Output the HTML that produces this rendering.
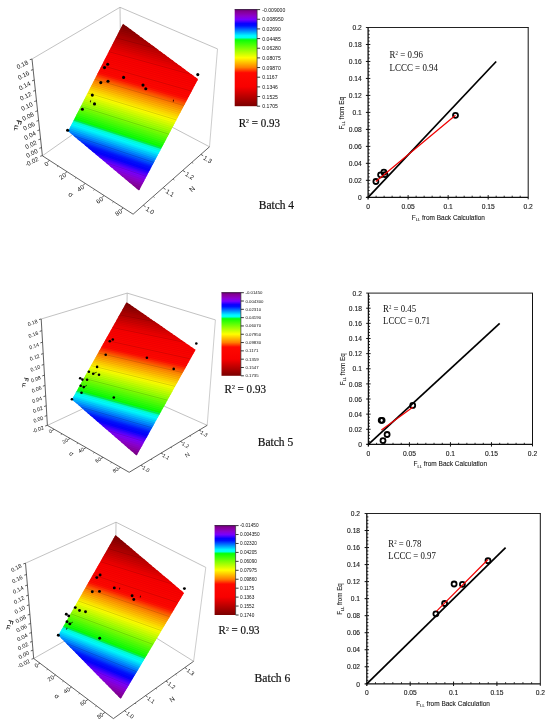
<!DOCTYPE html>
<html lang="en"><head><meta charset="utf-8"><title>Batch 4-6 fit surfaces</title>
<style>html,body{margin:0;padding:0;background:#fff;}svg{display:block;}</style></head><body>
<svg width="550" height="725" viewBox="0 0 550 725">
<rect width="550" height="725" fill="#fff"/>
<line x1="32" y1="59" x2="120" y2="7.3" stroke="#a8a8a8" stroke-width="0.7" />
<line x1="120" y1="7.3" x2="217.5" y2="48.9" stroke="#a8a8a8" stroke-width="0.7" />
<line x1="120" y1="7.3" x2="121.2" y2="100.3" stroke="#a8a8a8" stroke-width="0.7" />
<line x1="217.5" y1="48.9" x2="209.5" y2="146.8" stroke="#b8b8b8" stroke-width="0.7" />
<line x1="42.4" y1="155.8" x2="121.2" y2="100.3" stroke="#a8a8a8" stroke-width="0.7" />
<line x1="209.5" y1="146.8" x2="121.2" y2="100.3" stroke="#a8a8a8" stroke-width="0.7" />
<g shape-rendering="geometricPrecision">
<polygon points="135.21,187.33 139,190.5 139.82,188.95" fill="#740082"/>
<polygon points="131.45,184.18 137.48,189.23 139.33,189.88 140.64,187.4" fill="#7c008d"/>
<polygon points="127.69,181.04 133.7,186.07 140.15,188.33 141.46,185.85" fill="#840098"/>
<polygon points="123.96,177.92 129.94,182.92 140.97,186.78 142.29,184.3" fill="#8700a6"/>
<polygon points="120.25,174.81 126.2,179.79 141.79,185.23 143.11,182.75" fill="#8900b5"/>
<polygon points="116.55,171.72 122.47,176.68 142.61,183.68 143.93,181.2" fill="#8b00c4"/>
<polygon points="112.87,168.64 118.77,173.58 143.44,182.13 144.75,179.64" fill="#8b00d3"/>
<polygon points="109.21,165.58 115.07,170.49 144.26,180.58 145.58,178.09" fill="#8400e2"/>
<polygon points="105.56,162.53 111.4,167.42 145.08,179.02 146.4,176.53" fill="#7e00f1"/>
<polygon points="101.93,159.5 107.75,164.36 145.91,177.47 147.23,174.98" fill="#7700ff"/>
<polygon points="98.32,156.48 104.11,161.32 146.73,175.91 148.05,173.42" fill="#5a00ff"/>
<polygon points="94.73,153.47 100.49,158.29 147.56,174.36 148.88,171.86" fill="#3d00ff"/>
<polygon points="91.15,150.48 96.88,155.27 148.38,172.8 149.71,170.3" fill="#2000ff"/>
<polygon points="87.59,147.5 93.29,152.27 149.21,171.24 150.53,168.74" fill="#0701ff"/>
<polygon points="84.04,144.53 89.72,149.28 150.04,169.68 151.36,167.18" fill="#030aff"/>
<polygon points="80.51,141.58 86.17,146.31 150.86,168.12 152.19,165.62" fill="#0015ff"/>
<polygon points="77,138.64 82.63,143.35 151.69,166.56 153.02,164.06" fill="#002eff"/>
<polygon points="73.5,135.72 79.1,140.4 152.52,165 153.85,162.49" fill="#0048ff"/>
<polygon points="70.02,132.81 75.6,137.47 153.35,163.43 154.67,160.93" fill="#0061ff"/>
<polygon points="68.1,131.2 72.11,134.55 154.18,161.87 155.5,159.37 68.44,130.53" fill="#007aff"/>
<polygon points="68.1,131.2 68.63,131.65 155.01,160.3 156.33,157.8 69.21,129.04" fill="#0093ff"/>
<polygon points="155.84,158.74 157.17,156.23 69.97,127.54 68.75,129.94" fill="#00adff"/>
<polygon points="156.67,157.17 158,154.66 70.74,126.04 69.51,128.44" fill="#00c6ff"/>
<polygon points="157.5,155.6 158.83,153.09 71.5,124.55 70.28,126.94" fill="#00dfff"/>
<polygon points="158.33,154.04 159.66,151.52 72.27,123.05 71.04,125.45" fill="#00f8ff"/>
<polygon points="159.16,152.47 160.49,149.95 73.03,121.55 71.81,123.95" fill="#00fcf7"/>
<polygon points="159.99,150.9 161.33,148.38 73.8,120.05 72.57,122.45" fill="#01ffd8"/>
<polygon points="160.83,149.33 162.16,146.81 74.57,118.55 73.34,120.95" fill="#05ff6d"/>
<polygon points="161.66,147.75 162.99,145.24 75.34,117.04 74.11,119.45" fill="#09ff08"/>
<polygon points="162.49,146.18 163.83,143.66 76.11,115.54 74.88,117.94" fill="#18ff07"/>
<polygon points="163.33,144.61 164.66,142.09 76.87,114.04 75.64,116.44" fill="#27ff07"/>
<polygon points="164.16,143.03 165.5,140.51 77.64,112.53 76.41,114.94" fill="#36ff07"/>
<polygon points="165,141.46 166.34,138.93 78.41,111.03 77.18,113.43" fill="#45ff06"/>
<polygon points="165.83,139.88 167.17,137.35 79.18,109.52 77.95,111.93" fill="#53ff06"/>
<polygon points="166.67,138.3 168.01,135.78 79.95,108.01 78.72,110.42" fill="#62ff05"/>
<polygon points="167.51,136.72 168.85,134.2 80.72,106.5 79.49,108.92" fill="#71ff05"/>
<polygon points="168.34,135.14 169.69,132.61 81.5,104.99 80.26,107.41" fill="#80ff04"/>
<polygon points="169.18,133.56 170.52,131.03 82.27,103.48 81.03,105.9" fill="#8fff04"/>
<polygon points="170.02,131.98 171.36,129.45 83.04,101.97 81.8,104.39" fill="#9eff03"/>
<polygon points="170.86,130.4 172.2,127.87 83.81,100.46 82.58,102.88" fill="#adff03"/>
<polygon points="171.7,128.82 173.04,126.28 84.59,98.95 83.35,101.37" fill="#bcff02"/>
<polygon points="172.54,127.23 173.88,124.7 85.36,97.44 84.12,99.86" fill="#cbff02"/>
<polygon points="173.38,125.65 174.72,123.11 86.13,95.92 84.89,98.34" fill="#daff01"/>
<polygon points="174.22,124.06 175.57,121.52 86.91,94.41 85.67,96.83" fill="#e9ff01"/>
<polygon points="175.06,122.47 176.41,119.93 87.68,92.89 86.44,95.32" fill="#f8ff00"/>
<polygon points="175.9,120.89 177.25,118.34 88.46,91.38 87.22,93.8" fill="#fff800"/>
<polygon points="176.74,119.3 178.09,116.75 89.23,89.86 87.99,92.29" fill="#ffea00"/>
<polygon points="177.59,117.71 178.94,115.16 90.01,88.34 88.77,90.77" fill="#ffdc00"/>
<polygon points="178.43,116.12 179.78,113.57 90.79,86.82 89.54,89.25" fill="#ffce00"/>
<polygon points="179.27,114.53 180.62,111.98 91.56,85.3 90.32,87.73" fill="#ffc000"/>
<polygon points="180.12,112.93 181.47,110.38 92.34,83.78 91.1,86.21" fill="#ffb100"/>
<polygon points="180.96,111.34 182.32,108.79 93.12,82.26 91.87,84.69" fill="#ffa300"/>
<polygon points="181.81,109.75 183.16,107.19 93.9,80.74 92.65,83.17" fill="#ff9500"/>
<polygon points="182.65,108.15 184.01,105.6 94.67,79.21 93.43,81.65" fill="#ff8700"/>
<polygon points="183.5,106.55 184.85,104 95.45,77.69 94.21,80.13" fill="#ff7400"/>
<polygon points="184.35,104.96 185.7,102.4 96.23,76.16 94.99,78.6" fill="#ff5c00"/>
<polygon points="185.19,103.36 186.55,100.8 97.01,74.64 95.77,77.08" fill="#ff4300"/>
<polygon points="186.04,101.76 187.4,99.2 97.79,73.11 96.55,75.55" fill="#ff2b00"/>
<polygon points="186.89,100.16 188.25,97.6 98.57,71.58 97.33,74.03" fill="#ff1300"/>
<polygon points="187.74,98.56 189.1,96 99.36,70.05 98.11,72.5" fill="#ff0800"/>
<polygon points="188.59,96.96 189.95,94.39 100.14,68.53 98.89,70.97" fill="#fe0700"/>
<polygon points="189.44,95.35 190.8,92.79 100.92,67 99.67,69.44" fill="#fe0600"/>
<polygon points="190.29,93.75 191.65,91.18 101.7,65.46 100.45,67.91" fill="#fd0600"/>
<polygon points="191.14,92.15 192.5,89.58 102.49,63.93 101.23,66.38" fill="#fd0500"/>
<polygon points="191.99,90.54 193.35,87.97 103.27,62.4 102.02,64.85" fill="#fc0500"/>
<polygon points="192.84,88.93 194.2,86.36 104.05,60.87 102.8,63.32" fill="#fb0400"/>
<polygon points="193.69,87.33 195.06,84.75 104.84,59.33 103.58,61.79" fill="#fb0300"/>
<polygon points="194.55,85.72 195.91,83.14 105.62,57.8 104.37,60.25" fill="#fa0300"/>
<polygon points="195.4,84.11 196.76,81.53 106.41,56.26 105.15,58.72" fill="#fa0200"/>
<polygon points="196.25,82.5 197.62,79.92 107.19,54.72 105.94,57.18" fill="#f90200"/>
<polygon points="197.11,80.89 198,79.2 195.78,77.56 107.98,53.18 106.72,55.65" fill="#f90100"/>
<polygon points="197.96,79.27 198,79.2 191.78,74.6 108.77,51.65 107.51,54.11" fill="#f80000"/>
<polygon points="194.17,76.37 187.8,71.66 109.55,50.11 108.29,52.57" fill="#f50000"/>
<polygon points="190.18,73.43 183.84,68.74 110.34,48.57 109.08,51.03" fill="#ee0000"/>
<polygon points="186.21,70.49 179.9,65.83 111.13,47.02 109.87,49.49" fill="#e70000"/>
<polygon points="182.26,67.57 175.98,62.93 111.92,45.48 110.66,47.95" fill="#e00000"/>
<polygon points="178.33,64.67 172.07,60.05 112.71,43.94 111.44,46.41" fill="#d90000"/>
<polygon points="174.41,61.78 168.19,57.18 113.49,42.4 112.23,44.87" fill="#d20000"/>
<polygon points="170.52,58.9 164.33,54.33 114.28,40.85 113.02,43.32" fill="#cb0000"/>
<polygon points="166.64,56.04 160.48,51.48 115.07,39.3 113.81,41.78" fill="#c30000"/>
<polygon points="162.79,53.19 156.65,48.66 115.86,37.76 114.6,40.23" fill="#bd0000"/>
<polygon points="158.95,50.35 152.84,45.84 116.66,36.21 115.39,38.69" fill="#b60000"/>
<polygon points="155.12,47.53 149.05,43.04 117.45,34.66 116.18,37.14" fill="#af0000"/>
<polygon points="151.32,44.72 145.27,40.25 118.24,33.11 116.97,35.59" fill="#a80000"/>
<polygon points="147.54,41.92 141.52,37.48 119.03,31.56 117.76,34.04" fill="#a00000"/>
<polygon points="143.77,39.14 137.78,34.72 119.82,30.01 118.56,32.49" fill="#9a0000"/>
<polygon points="140.02,36.37 134.06,31.97 120.62,28.46 119.35,30.94" fill="#930000"/>
<polygon points="136.29,33.62 130.36,29.23 121.41,26.91 120.14,29.39" fill="#8c0000"/>
<polygon points="132.58,30.87 126.67,26.51 122.21,25.35 120.94,27.84" fill="#850000"/>
<polygon points="128.88,28.14 123,23.8 121.73,26.29" fill="#7e0000"/>
</g>
<line x1="134.74" y1="186.94" x2="139.92" y2="188.76" stroke="#000" stroke-width="0.45" stroke-opacity="0.10"/>
<line x1="130.51" y1="183.4" x2="140.85" y2="187.02" stroke="#000" stroke-width="0.45" stroke-opacity="0.10"/>
<line x1="126.29" y1="179.87" x2="141.77" y2="185.27" stroke="#000" stroke-width="0.45" stroke-opacity="0.10"/>
<line x1="122.1" y1="176.37" x2="142.7" y2="183.53" stroke="#000" stroke-width="0.45" stroke-opacity="0.10"/>
<line x1="117.93" y1="172.88" x2="143.62" y2="181.78" stroke="#000" stroke-width="0.45" stroke-opacity="0.10"/>
<line x1="113.79" y1="169.41" x2="144.55" y2="180.03" stroke="#000" stroke-width="0.45" stroke-opacity="0.10"/>
<line x1="109.66" y1="165.96" x2="145.48" y2="178.28" stroke="#000" stroke-width="0.45" stroke-opacity="0.10"/>
<line x1="105.56" y1="162.53" x2="146.4" y2="176.53" stroke="#000" stroke-width="0.5" stroke-opacity="0.30"/>
<line x1="101.48" y1="159.12" x2="147.33" y2="174.78" stroke="#000" stroke-width="0.45" stroke-opacity="0.10"/>
<line x1="97.42" y1="155.72" x2="148.26" y2="173.03" stroke="#000" stroke-width="0.45" stroke-opacity="0.10"/>
<line x1="93.38" y1="152.35" x2="149.19" y2="171.28" stroke="#000" stroke-width="0.45" stroke-opacity="0.10"/>
<line x1="89.36" y1="148.99" x2="150.12" y2="169.52" stroke="#000" stroke-width="0.45" stroke-opacity="0.10"/>
<line x1="85.37" y1="145.64" x2="151.05" y2="167.77" stroke="#000" stroke-width="0.45" stroke-opacity="0.10"/>
<line x1="81.39" y1="142.32" x2="151.98" y2="166.01" stroke="#000" stroke-width="0.45" stroke-opacity="0.10"/>
<line x1="77.44" y1="139.01" x2="152.91" y2="164.25" stroke="#000" stroke-width="0.45" stroke-opacity="0.10"/>
<line x1="73.5" y1="135.72" x2="153.85" y2="162.49" stroke="#000" stroke-width="0.5" stroke-opacity="0.30"/>
<line x1="69.59" y1="132.44" x2="154.78" y2="160.73" stroke="#000" stroke-width="0.45" stroke-opacity="0.10"/>
<line x1="155.71" y1="158.97" x2="68.63" y2="130.16" stroke="#000" stroke-width="0.45" stroke-opacity="0.10"/>
<line x1="156.65" y1="157.21" x2="69.49" y2="128.48" stroke="#000" stroke-width="0.45" stroke-opacity="0.10"/>
<line x1="157.58" y1="155.45" x2="70.35" y2="126.79" stroke="#000" stroke-width="0.45" stroke-opacity="0.10"/>
<line x1="158.52" y1="153.68" x2="71.21" y2="125.11" stroke="#000" stroke-width="0.45" stroke-opacity="0.10"/>
<line x1="159.45" y1="151.92" x2="72.08" y2="123.42" stroke="#000" stroke-width="0.45" stroke-opacity="0.10"/>
<line x1="160.39" y1="150.15" x2="72.94" y2="121.73" stroke="#000" stroke-width="0.45" stroke-opacity="0.10"/>
<line x1="161.33" y1="148.38" x2="73.8" y2="120.05" stroke="#000" stroke-width="0.5" stroke-opacity="0.30"/>
<line x1="162.26" y1="146.61" x2="74.66" y2="118.36" stroke="#000" stroke-width="0.45" stroke-opacity="0.10"/>
<line x1="163.2" y1="144.84" x2="75.53" y2="116.67" stroke="#000" stroke-width="0.45" stroke-opacity="0.10"/>
<line x1="164.14" y1="143.07" x2="76.39" y2="114.98" stroke="#000" stroke-width="0.45" stroke-opacity="0.10"/>
<line x1="165.08" y1="141.3" x2="77.26" y2="113.28" stroke="#000" stroke-width="0.45" stroke-opacity="0.10"/>
<line x1="166.02" y1="139.52" x2="78.12" y2="111.59" stroke="#000" stroke-width="0.45" stroke-opacity="0.10"/>
<line x1="166.96" y1="137.75" x2="78.99" y2="109.9" stroke="#000" stroke-width="0.45" stroke-opacity="0.10"/>
<line x1="167.9" y1="135.97" x2="79.86" y2="108.2" stroke="#000" stroke-width="0.45" stroke-opacity="0.10"/>
<line x1="168.85" y1="134.2" x2="80.72" y2="106.5" stroke="#000" stroke-width="0.5" stroke-opacity="0.30"/>
<line x1="169.79" y1="132.42" x2="81.59" y2="104.81" stroke="#000" stroke-width="0.45" stroke-opacity="0.10"/>
<line x1="170.73" y1="130.64" x2="82.46" y2="103.11" stroke="#000" stroke-width="0.45" stroke-opacity="0.10"/>
<line x1="171.68" y1="128.86" x2="83.33" y2="101.41" stroke="#000" stroke-width="0.45" stroke-opacity="0.10"/>
<line x1="172.62" y1="127.07" x2="84.2" y2="99.71" stroke="#000" stroke-width="0.45" stroke-opacity="0.10"/>
<line x1="173.57" y1="125.29" x2="85.07" y2="98" stroke="#000" stroke-width="0.45" stroke-opacity="0.10"/>
<line x1="174.51" y1="123.51" x2="85.94" y2="96.3" stroke="#000" stroke-width="0.45" stroke-opacity="0.10"/>
<line x1="175.46" y1="121.72" x2="86.81" y2="94.6" stroke="#000" stroke-width="0.45" stroke-opacity="0.10"/>
<line x1="176.41" y1="119.93" x2="87.68" y2="92.89" stroke="#000" stroke-width="0.5" stroke-opacity="0.30"/>
<line x1="177.36" y1="118.15" x2="88.55" y2="91.19" stroke="#000" stroke-width="0.45" stroke-opacity="0.10"/>
<line x1="178.3" y1="116.36" x2="89.43" y2="89.48" stroke="#000" stroke-width="0.45" stroke-opacity="0.10"/>
<line x1="179.25" y1="114.57" x2="90.3" y2="87.77" stroke="#000" stroke-width="0.45" stroke-opacity="0.10"/>
<line x1="180.2" y1="112.77" x2="91.17" y2="86.06" stroke="#000" stroke-width="0.45" stroke-opacity="0.10"/>
<line x1="181.15" y1="110.98" x2="92.05" y2="84.35" stroke="#000" stroke-width="0.45" stroke-opacity="0.10"/>
<line x1="182.1" y1="109.19" x2="92.92" y2="82.64" stroke="#000" stroke-width="0.45" stroke-opacity="0.10"/>
<line x1="183.06" y1="107.39" x2="93.8" y2="80.93" stroke="#000" stroke-width="0.45" stroke-opacity="0.10"/>
<line x1="184.01" y1="105.6" x2="94.67" y2="79.21" stroke="#000" stroke-width="0.5" stroke-opacity="0.30"/>
<line x1="184.96" y1="103.8" x2="95.55" y2="77.5" stroke="#000" stroke-width="0.45" stroke-opacity="0.10"/>
<line x1="185.91" y1="102" x2="96.43" y2="75.78" stroke="#000" stroke-width="0.45" stroke-opacity="0.10"/>
<line x1="186.87" y1="100.2" x2="97.31" y2="74.06" stroke="#000" stroke-width="0.45" stroke-opacity="0.10"/>
<line x1="187.82" y1="98.4" x2="98.18" y2="72.35" stroke="#000" stroke-width="0.45" stroke-opacity="0.10"/>
<line x1="188.78" y1="96.6" x2="99.06" y2="70.63" stroke="#000" stroke-width="0.45" stroke-opacity="0.10"/>
<line x1="189.73" y1="94.79" x2="99.94" y2="68.91" stroke="#000" stroke-width="0.45" stroke-opacity="0.10"/>
<line x1="190.69" y1="92.99" x2="100.82" y2="67.19" stroke="#000" stroke-width="0.45" stroke-opacity="0.10"/>
<line x1="191.65" y1="91.18" x2="101.7" y2="65.46" stroke="#000" stroke-width="0.5" stroke-opacity="0.30"/>
<line x1="192.61" y1="89.38" x2="102.58" y2="63.74" stroke="#000" stroke-width="0.45" stroke-opacity="0.10"/>
<line x1="193.56" y1="87.57" x2="103.46" y2="62.02" stroke="#000" stroke-width="0.45" stroke-opacity="0.10"/>
<line x1="194.52" y1="85.76" x2="104.35" y2="60.29" stroke="#000" stroke-width="0.45" stroke-opacity="0.10"/>
<line x1="195.48" y1="83.95" x2="105.23" y2="58.56" stroke="#000" stroke-width="0.45" stroke-opacity="0.10"/>
<line x1="196.44" y1="82.13" x2="106.11" y2="56.84" stroke="#000" stroke-width="0.45" stroke-opacity="0.10"/>
<line x1="197.41" y1="80.32" x2="107" y2="55.11" stroke="#000" stroke-width="0.45" stroke-opacity="0.10"/>
<line x1="196.28" y1="77.93" x2="107.88" y2="53.38" stroke="#000" stroke-width="0.45" stroke-opacity="0.10"/>
<line x1="191.78" y1="74.6" x2="108.77" y2="51.65" stroke="#000" stroke-width="0.5" stroke-opacity="0.30"/>
<line x1="187.3" y1="71.3" x2="109.65" y2="49.91" stroke="#000" stroke-width="0.45" stroke-opacity="0.10"/>
<line x1="182.85" y1="68.01" x2="110.54" y2="48.18" stroke="#000" stroke-width="0.45" stroke-opacity="0.10"/>
<line x1="178.43" y1="64.74" x2="111.42" y2="46.45" stroke="#000" stroke-width="0.45" stroke-opacity="0.10"/>
<line x1="174.02" y1="61.49" x2="112.31" y2="44.71" stroke="#000" stroke-width="0.45" stroke-opacity="0.10"/>
<line x1="169.65" y1="58.26" x2="113.2" y2="42.97" stroke="#000" stroke-width="0.45" stroke-opacity="0.10"/>
<line x1="165.29" y1="55.04" x2="114.09" y2="41.24" stroke="#000" stroke-width="0.45" stroke-opacity="0.10"/>
<line x1="160.96" y1="51.84" x2="114.98" y2="39.5" stroke="#000" stroke-width="0.45" stroke-opacity="0.10"/>
<line x1="156.65" y1="48.66" x2="115.86" y2="37.76" stroke="#000" stroke-width="0.5" stroke-opacity="0.30"/>
<line x1="152.37" y1="45.49" x2="116.75" y2="36.02" stroke="#000" stroke-width="0.45" stroke-opacity="0.10"/>
<line x1="148.1" y1="42.34" x2="117.65" y2="34.28" stroke="#000" stroke-width="0.45" stroke-opacity="0.10"/>
<line x1="143.86" y1="39.21" x2="118.54" y2="32.53" stroke="#000" stroke-width="0.45" stroke-opacity="0.10"/>
<line x1="139.65" y1="36.1" x2="119.43" y2="30.79" stroke="#000" stroke-width="0.45" stroke-opacity="0.10"/>
<line x1="135.45" y1="33" x2="120.32" y2="29.04" stroke="#000" stroke-width="0.45" stroke-opacity="0.10"/>
<line x1="131.28" y1="29.92" x2="121.21" y2="27.3" stroke="#000" stroke-width="0.45" stroke-opacity="0.10"/>
<line x1="127.13" y1="26.85" x2="122.11" y2="25.55" stroke="#000" stroke-width="0.45" stroke-opacity="0.10"/>
<circle cx="107.7" cy="64.3" r="1.55" fill="#000"/>
<circle cx="104.5" cy="67.6" r="1.55" fill="#000"/>
<circle cx="123.6" cy="77.4" r="1.55" fill="#000"/>
<circle cx="100.8" cy="82.6" r="1.55" fill="#000"/>
<circle cx="108" cy="81.3" r="1.55" fill="#000"/>
<circle cx="143" cy="85.1" r="1.55" fill="#000"/>
<circle cx="145.8" cy="88.7" r="1.55" fill="#000"/>
<circle cx="92.3" cy="95.1" r="1.55" fill="#000"/>
<circle cx="94.5" cy="103.9" r="1.55" fill="#000"/>
<circle cx="82.4" cy="109.3" r="1.55" fill="#000"/>
<circle cx="67.6" cy="130.3" r="1.55" fill="#000"/>
<circle cx="197.8" cy="74.6" r="1.55" fill="#000"/>
<ellipse cx="173.4" cy="100.7" rx="0.55" ry="1.15" fill="#200" fill-opacity="0.85" transform="rotate(20 173.4 100.7)"/>
<ellipse cx="90.5" cy="101.4" rx="0.55" ry="1.15" fill="#200" fill-opacity="0.85" transform="rotate(20 90.5 101.4)"/>
<line x1="32" y1="59" x2="42.4" y2="155.8" stroke="#3a3a3a" stroke-width="0.8" />
<line x1="42.4" y1="155.8" x2="133.1" y2="214.2" stroke="#3a3a3a" stroke-width="0.8" />
<line x1="133.1" y1="214.2" x2="209.5" y2="146.8" stroke="#3a3a3a" stroke-width="0.8" />
<line x1="32" y1="59" x2="29.8" y2="59.7" stroke="#3a3a3a" stroke-width="0.8" />
<text x="27.6" y="61.6" font-family='"Liberation Sans", sans-serif' font-size="6.2" text-anchor="end" fill="#111" dominant-baseline="central" transform="rotate(-27 27.6 61.6)" >0.18</text>
<line x1="33.14" y1="69.6" x2="30.94" y2="70.3" stroke="#3a3a3a" stroke-width="0.8" />
<text x="28.74" y="72.2" font-family='"Liberation Sans", sans-serif' font-size="6.2" text-anchor="end" fill="#111" dominant-baseline="central" transform="rotate(-27 28.74 72.2)" >0.16</text>
<line x1="34.27" y1="80.1" x2="32.07" y2="80.8" stroke="#3a3a3a" stroke-width="0.8" />
<text x="29.87" y="82.7" font-family='"Liberation Sans", sans-serif' font-size="6.2" text-anchor="end" fill="#111" dominant-baseline="central" transform="rotate(-27 29.87 82.7)" >0.14</text>
<line x1="35.38" y1="90.5" x2="33.18" y2="91.2" stroke="#3a3a3a" stroke-width="0.8" />
<text x="30.98" y="93.1" font-family='"Liberation Sans", sans-serif' font-size="6.2" text-anchor="end" fill="#111" dominant-baseline="central" transform="rotate(-27 30.98 93.1)" >0.12</text>
<line x1="36.49" y1="100.8" x2="34.29" y2="101.5" stroke="#3a3a3a" stroke-width="0.8" />
<text x="32.09" y="103.4" font-family='"Liberation Sans", sans-serif' font-size="6.2" text-anchor="end" fill="#111" dominant-baseline="central" transform="rotate(-27 32.09 103.4)" >0.10</text>
<line x1="37.57" y1="110.8" x2="35.37" y2="111.5" stroke="#3a3a3a" stroke-width="0.8" />
<text x="33.17" y="113.4" font-family='"Liberation Sans", sans-serif' font-size="6.2" text-anchor="end" fill="#111" dominant-baseline="central" transform="rotate(-27 33.17 113.4)" >0.08</text>
<line x1="38.61" y1="120.5" x2="36.41" y2="121.2" stroke="#3a3a3a" stroke-width="0.8" />
<text x="34.21" y="123.1" font-family='"Liberation Sans", sans-serif' font-size="6.2" text-anchor="end" fill="#111" dominant-baseline="central" transform="rotate(-27 34.21 123.1)" >0.06</text>
<line x1="39.62" y1="129.9" x2="37.42" y2="130.6" stroke="#3a3a3a" stroke-width="0.8" />
<text x="35.22" y="132.5" font-family='"Liberation Sans", sans-serif' font-size="6.2" text-anchor="end" fill="#111" dominant-baseline="central" transform="rotate(-27 35.22 132.5)" >0.04</text>
<line x1="40.6" y1="139" x2="38.4" y2="139.7" stroke="#3a3a3a" stroke-width="0.8" />
<text x="36.2" y="141.6" font-family='"Liberation Sans", sans-serif' font-size="6.2" text-anchor="end" fill="#111" dominant-baseline="central" transform="rotate(-27 36.2 141.6)" >0.02</text>
<line x1="41.52" y1="147.6" x2="39.32" y2="148.3" stroke="#3a3a3a" stroke-width="0.8" />
<text x="37.12" y="150.2" font-family='"Liberation Sans", sans-serif' font-size="6.2" text-anchor="end" fill="#111" dominant-baseline="central" transform="rotate(-27 37.12 150.2)" >0.00</text>
<line x1="42.38" y1="155.6" x2="40.18" y2="156.3" stroke="#3a3a3a" stroke-width="0.8" />
<text x="37.98" y="158.2" font-family='"Liberation Sans", sans-serif' font-size="6.2" text-anchor="end" fill="#111" dominant-baseline="central" transform="rotate(-27 37.98 158.2)" >-0.02</text>
<line x1="49.4" y1="160.4" x2="47.45" y2="162.12" stroke="#3a3a3a" stroke-width="0.8" />
<text x="47.72" y="162.72" font-family='"Liberation Sans", sans-serif' font-size="6.2" text-anchor="end" fill="#111" dominant-baseline="central" transform="rotate(-35 47.72 162.72)" >0</text>
<line x1="67" y1="171.6" x2="65.05" y2="173.32" stroke="#3a3a3a" stroke-width="0.8" />
<text x="65.32" y="173.92" font-family='"Liberation Sans", sans-serif' font-size="6.2" text-anchor="end" fill="#111" dominant-baseline="central" transform="rotate(-35 65.32 173.92)" >20</text>
<line x1="85" y1="183.6" x2="83.05" y2="185.32" stroke="#3a3a3a" stroke-width="0.8" />
<text x="83.32" y="185.92" font-family='"Liberation Sans", sans-serif' font-size="6.2" text-anchor="end" fill="#111" dominant-baseline="central" transform="rotate(-35 83.32 185.92)" >40</text>
<line x1="104" y1="195.6" x2="102.05" y2="197.32" stroke="#3a3a3a" stroke-width="0.8" />
<text x="102.32" y="197.92" font-family='"Liberation Sans", sans-serif' font-size="6.2" text-anchor="end" fill="#111" dominant-baseline="central" transform="rotate(-35 102.32 197.92)" >60</text>
<line x1="123" y1="208" x2="121.05" y2="209.72" stroke="#3a3a3a" stroke-width="0.8" />
<text x="121.32" y="210.32" font-family='"Liberation Sans", sans-serif' font-size="6.2" text-anchor="end" fill="#111" dominant-baseline="central" transform="rotate(-35 121.32 210.32)" >80</text>
<line x1="58.2" y1="166" x2="57.15" y2="166.93" stroke="#3a3a3a" stroke-width="0.6400000000000001" />
<line x1="76" y1="177.6" x2="74.95" y2="178.53" stroke="#3a3a3a" stroke-width="0.6400000000000001" />
<line x1="94.5" y1="189.6" x2="93.45" y2="190.53" stroke="#3a3a3a" stroke-width="0.6400000000000001" />
<line x1="113.5" y1="201.8" x2="112.45" y2="202.73" stroke="#3a3a3a" stroke-width="0.6400000000000001" />
<line x1="143.4" y1="205.4" x2="145.59" y2="206.81" stroke="#3a3a3a" stroke-width="0.8" />
<text x="150.2" y="210.2" font-family='"Liberation Sans", sans-serif' font-size="6.2" text-anchor="middle" fill="#111" dominant-baseline="central" transform="rotate(33 150.2 210.2)" >1.0</text>
<line x1="163.4" y1="188" x2="165.59" y2="189.41" stroke="#3a3a3a" stroke-width="0.8" />
<text x="170.2" y="192.8" font-family='"Liberation Sans", sans-serif' font-size="6.2" text-anchor="middle" fill="#111" dominant-baseline="central" transform="rotate(33 170.2 192.8)" >1.1</text>
<line x1="183" y1="170.6" x2="185.19" y2="172.01" stroke="#3a3a3a" stroke-width="0.8" />
<text x="189.8" y="175.4" font-family='"Liberation Sans", sans-serif' font-size="6.2" text-anchor="middle" fill="#111" dominant-baseline="central" transform="rotate(33 189.8 175.4)" >1.2</text>
<line x1="201" y1="154.4" x2="203.19" y2="155.81" stroke="#3a3a3a" stroke-width="0.8" />
<text x="207.8" y="159.2" font-family='"Liberation Sans", sans-serif' font-size="6.2" text-anchor="middle" fill="#111" dominant-baseline="central" transform="rotate(33 207.8 159.2)" >1.3</text>
<line x1="153.4" y1="196.7" x2="154.58" y2="197.46" stroke="#3a3a3a" stroke-width="0.6400000000000001" />
<line x1="173.2" y1="179.3" x2="174.38" y2="180.06" stroke="#3a3a3a" stroke-width="0.6400000000000001" />
<line x1="192" y1="162.5" x2="193.18" y2="163.26" stroke="#3a3a3a" stroke-width="0.6400000000000001" />
<text x="18.5" y="122.2" font-family='"Liberation Sans", sans-serif' font-size="7.1" text-anchor="middle" dominant-baseline="central" fill="#111" stroke="#111" stroke-width="0.2" transform="rotate(102 18.5 122.2)">F</text>
<text x="15.9" y="128" font-family='"Liberation Sans", sans-serif' font-size="4.83" text-anchor="middle" dominant-baseline="central" fill="#111" stroke="#111" stroke-width="0.15" transform="rotate(102 15.9 128)">LL</text>
<text x="71" y="194.4" font-family='"Liberation Sans", sans-serif' font-size="7.0" text-anchor="middle" fill="#111" dominant-baseline="central" transform="rotate(33 71 194.4)" >σ</text>
<text x="192" y="189" font-family='"Liberation Sans", sans-serif' font-size="7.0" text-anchor="middle" fill="#111" dominant-baseline="central" transform="rotate(-41 192 189)" >N</text>
<defs><linearGradient id="g1" x1="0" y1="0" x2="0" y2="1">
<stop offset="0.0" stop-color="#70007c"/>
<stop offset="0.03" stop-color="#86009a"/>
<stop offset="0.07" stop-color="#8c00d0"/>
<stop offset="0.105" stop-color="#7800ff"/>
<stop offset="0.148" stop-color="#0800ff"/>
<stop offset="0.17" stop-color="#0010ff"/>
<stop offset="0.272" stop-color="#00f8ff"/>
<stop offset="0.292" stop-color="#00fff0"/>
<stop offset="0.316" stop-color="#08ff08"/>
<stop offset="0.5" stop-color="#ffff00"/>
<stop offset="0.6" stop-color="#ff8000"/>
<stop offset="0.655" stop-color="#ff0800"/>
<stop offset="0.8" stop-color="#f80000"/>
<stop offset="1.0" stop-color="#7a0000"/>
</linearGradient></defs>
<rect x="234.7" y="9.3" width="22.4" height="96.9" fill="url(#g1)"/>
<line x1="234.7" y1="9.6" x2="257.1" y2="9.6" stroke="#2a1030" stroke-width="0.8" />
<line x1="257.1" y1="9.3" x2="257.1" y2="106.2" stroke="#333" stroke-width="0.7" />
<line x1="257.1" y1="9.6" x2="260.1" y2="9.6" stroke="#222" stroke-width="0.9" />
<text x="262.3" y="9.6" font-family='"Liberation Sans", sans-serif' font-size="5.1" text-anchor="start" fill="#111" dominant-baseline="central" >-0.009000</text>
<line x1="257.1" y1="19.26" x2="260.1" y2="19.26" stroke="#222" stroke-width="0.9" />
<text x="262.3" y="19.26" font-family='"Liberation Sans", sans-serif' font-size="5.1" text-anchor="start" fill="#111" dominant-baseline="central" >0.008950</text>
<line x1="257.1" y1="28.92" x2="260.1" y2="28.92" stroke="#222" stroke-width="0.9" />
<text x="262.3" y="28.92" font-family='"Liberation Sans", sans-serif' font-size="5.1" text-anchor="start" fill="#111" dominant-baseline="central" >0.02690</text>
<line x1="257.1" y1="38.58" x2="260.1" y2="38.58" stroke="#222" stroke-width="0.9" />
<text x="262.3" y="38.58" font-family='"Liberation Sans", sans-serif' font-size="5.1" text-anchor="start" fill="#111" dominant-baseline="central" >0.04485</text>
<line x1="257.1" y1="48.24" x2="260.1" y2="48.24" stroke="#222" stroke-width="0.9" />
<text x="262.3" y="48.24" font-family='"Liberation Sans", sans-serif' font-size="5.1" text-anchor="start" fill="#111" dominant-baseline="central" >0.06280</text>
<line x1="257.1" y1="57.9" x2="260.1" y2="57.9" stroke="#222" stroke-width="0.9" />
<text x="262.3" y="57.9" font-family='"Liberation Sans", sans-serif' font-size="5.1" text-anchor="start" fill="#111" dominant-baseline="central" >0.08075</text>
<line x1="257.1" y1="67.56" x2="260.1" y2="67.56" stroke="#222" stroke-width="0.9" />
<text x="262.3" y="67.56" font-family='"Liberation Sans", sans-serif' font-size="5.1" text-anchor="start" fill="#111" dominant-baseline="central" >0.09870</text>
<line x1="257.1" y1="77.22" x2="260.1" y2="77.22" stroke="#222" stroke-width="0.9" />
<text x="262.3" y="77.22" font-family='"Liberation Sans", sans-serif' font-size="5.1" text-anchor="start" fill="#111" dominant-baseline="central" >0.1167</text>
<line x1="257.1" y1="86.88" x2="260.1" y2="86.88" stroke="#222" stroke-width="0.9" />
<text x="262.3" y="86.88" font-family='"Liberation Sans", sans-serif' font-size="5.1" text-anchor="start" fill="#111" dominant-baseline="central" >0.1346</text>
<line x1="257.1" y1="96.54" x2="260.1" y2="96.54" stroke="#222" stroke-width="0.9" />
<text x="262.3" y="96.54" font-family='"Liberation Sans", sans-serif' font-size="5.1" text-anchor="start" fill="#111" dominant-baseline="central" >0.1525</text>
<line x1="257.1" y1="106.2" x2="260.1" y2="106.2" stroke="#222" stroke-width="0.9" />
<text x="262.3" y="106.2" font-family='"Liberation Sans", sans-serif' font-size="5.1" text-anchor="start" fill="#111" dominant-baseline="central" >0.1705</text>
<text x="238.7" y="126.9" font-family='"Liberation Serif", serif' font-size="12.4" fill="#111" stroke="#111" stroke-width="0.2" textLength="41.2" lengthAdjust="spacingAndGlyphs">R<tspan font-size="6.6" dy="-3.6">2</tspan><tspan dy="3.6"> = 0.93</tspan></text>
<text x="258.8" y="208.7" font-family='"Liberation Serif", serif' font-size="12.2" fill="#111" stroke="#111" stroke-width="0.2" textLength="35.3" lengthAdjust="spacingAndGlyphs">Batch 4</text>
<line x1="365.9" y1="27.5" x2="528.7" y2="27.5" stroke="#222" stroke-width="1.1" />
<line x1="528.2" y1="27.5" x2="528.2" y2="199.3" stroke="#111" stroke-width="1.0" />
<line x1="368.1" y1="27.5" x2="368.1" y2="199.5" stroke="#111" stroke-width="1.3" />
<line x1="365.9" y1="197.3" x2="528.2" y2="197.3" stroke="#111" stroke-width="1.3" />
<text x="361.8" y="197.5" font-family='"Liberation Sans", sans-serif' font-size="6.5" text-anchor="end" fill="#1a1a1a" dominant-baseline="central" stroke="#1a1a1a" stroke-width="0.12" textLength="3.72" lengthAdjust="spacingAndGlyphs">0</text>
<line x1="368.1" y1="193.9" x2="369.7" y2="193.9" stroke="#111" stroke-width="0.9" />
<line x1="368.1" y1="190.51" x2="369.7" y2="190.51" stroke="#111" stroke-width="0.9" />
<line x1="368.1" y1="187.11" x2="369.7" y2="187.11" stroke="#111" stroke-width="0.9" />
<line x1="368.1" y1="183.72" x2="369.7" y2="183.72" stroke="#111" stroke-width="0.9" />
<line x1="365.9" y1="180.32" x2="370.3" y2="180.32" stroke="#111" stroke-width="1.0" />
<text x="361.8" y="180.52" font-family='"Liberation Sans", sans-serif' font-size="6.5" text-anchor="end" fill="#1a1a1a" dominant-baseline="central" stroke="#1a1a1a" stroke-width="0.12" textLength="13.03" lengthAdjust="spacingAndGlyphs">0.02</text>
<line x1="368.1" y1="176.92" x2="369.7" y2="176.92" stroke="#111" stroke-width="0.9" />
<line x1="368.1" y1="173.53" x2="369.7" y2="173.53" stroke="#111" stroke-width="0.9" />
<line x1="368.1" y1="170.13" x2="369.7" y2="170.13" stroke="#111" stroke-width="0.9" />
<line x1="368.1" y1="166.74" x2="369.7" y2="166.74" stroke="#111" stroke-width="0.9" />
<line x1="365.9" y1="163.34" x2="370.3" y2="163.34" stroke="#111" stroke-width="1.0" />
<text x="361.8" y="163.54" font-family='"Liberation Sans", sans-serif' font-size="6.5" text-anchor="end" fill="#1a1a1a" dominant-baseline="central" stroke="#1a1a1a" stroke-width="0.12" textLength="13.03" lengthAdjust="spacingAndGlyphs">0.04</text>
<line x1="368.1" y1="159.94" x2="369.7" y2="159.94" stroke="#111" stroke-width="0.9" />
<line x1="368.1" y1="156.55" x2="369.7" y2="156.55" stroke="#111" stroke-width="0.9" />
<line x1="368.1" y1="153.15" x2="369.7" y2="153.15" stroke="#111" stroke-width="0.9" />
<line x1="368.1" y1="149.76" x2="369.7" y2="149.76" stroke="#111" stroke-width="0.9" />
<line x1="365.9" y1="146.36" x2="370.3" y2="146.36" stroke="#111" stroke-width="1.0" />
<text x="361.8" y="146.56" font-family='"Liberation Sans", sans-serif' font-size="6.5" text-anchor="end" fill="#1a1a1a" dominant-baseline="central" stroke="#1a1a1a" stroke-width="0.12" textLength="13.03" lengthAdjust="spacingAndGlyphs">0.06</text>
<line x1="368.1" y1="142.96" x2="369.7" y2="142.96" stroke="#111" stroke-width="0.9" />
<line x1="368.1" y1="139.57" x2="369.7" y2="139.57" stroke="#111" stroke-width="0.9" />
<line x1="368.1" y1="136.17" x2="369.7" y2="136.17" stroke="#111" stroke-width="0.9" />
<line x1="368.1" y1="132.78" x2="369.7" y2="132.78" stroke="#111" stroke-width="0.9" />
<line x1="365.9" y1="129.38" x2="370.3" y2="129.38" stroke="#111" stroke-width="1.0" />
<text x="361.8" y="129.58" font-family='"Liberation Sans", sans-serif' font-size="6.5" text-anchor="end" fill="#1a1a1a" dominant-baseline="central" stroke="#1a1a1a" stroke-width="0.12" textLength="13.03" lengthAdjust="spacingAndGlyphs">0.08</text>
<line x1="368.1" y1="125.98" x2="369.7" y2="125.98" stroke="#111" stroke-width="0.9" />
<line x1="368.1" y1="122.59" x2="369.7" y2="122.59" stroke="#111" stroke-width="0.9" />
<line x1="368.1" y1="119.19" x2="369.7" y2="119.19" stroke="#111" stroke-width="0.9" />
<line x1="368.1" y1="115.8" x2="369.7" y2="115.8" stroke="#111" stroke-width="0.9" />
<line x1="365.9" y1="112.4" x2="370.3" y2="112.4" stroke="#111" stroke-width="1.0" />
<text x="361.8" y="112.6" font-family='"Liberation Sans", sans-serif' font-size="6.5" text-anchor="end" fill="#1a1a1a" dominant-baseline="central" stroke="#1a1a1a" stroke-width="0.12" textLength="9.31" lengthAdjust="spacingAndGlyphs">0.1</text>
<line x1="368.1" y1="109" x2="369.7" y2="109" stroke="#111" stroke-width="0.9" />
<line x1="368.1" y1="105.61" x2="369.7" y2="105.61" stroke="#111" stroke-width="0.9" />
<line x1="368.1" y1="102.21" x2="369.7" y2="102.21" stroke="#111" stroke-width="0.9" />
<line x1="368.1" y1="98.82" x2="369.7" y2="98.82" stroke="#111" stroke-width="0.9" />
<line x1="365.9" y1="95.42" x2="370.3" y2="95.42" stroke="#111" stroke-width="1.0" />
<text x="361.8" y="95.62" font-family='"Liberation Sans", sans-serif' font-size="6.5" text-anchor="end" fill="#1a1a1a" dominant-baseline="central" stroke="#1a1a1a" stroke-width="0.12" textLength="13.03" lengthAdjust="spacingAndGlyphs">0.12</text>
<line x1="368.1" y1="92.02" x2="369.7" y2="92.02" stroke="#111" stroke-width="0.9" />
<line x1="368.1" y1="88.63" x2="369.7" y2="88.63" stroke="#111" stroke-width="0.9" />
<line x1="368.1" y1="85.23" x2="369.7" y2="85.23" stroke="#111" stroke-width="0.9" />
<line x1="368.1" y1="81.84" x2="369.7" y2="81.84" stroke="#111" stroke-width="0.9" />
<line x1="365.9" y1="78.44" x2="370.3" y2="78.44" stroke="#111" stroke-width="1.0" />
<text x="361.8" y="78.64" font-family='"Liberation Sans", sans-serif' font-size="6.5" text-anchor="end" fill="#1a1a1a" dominant-baseline="central" stroke="#1a1a1a" stroke-width="0.12" textLength="13.03" lengthAdjust="spacingAndGlyphs">0.14</text>
<line x1="368.1" y1="75.04" x2="369.7" y2="75.04" stroke="#111" stroke-width="0.9" />
<line x1="368.1" y1="71.65" x2="369.7" y2="71.65" stroke="#111" stroke-width="0.9" />
<line x1="368.1" y1="68.25" x2="369.7" y2="68.25" stroke="#111" stroke-width="0.9" />
<line x1="368.1" y1="64.86" x2="369.7" y2="64.86" stroke="#111" stroke-width="0.9" />
<line x1="365.9" y1="61.46" x2="370.3" y2="61.46" stroke="#111" stroke-width="1.0" />
<text x="361.8" y="61.66" font-family='"Liberation Sans", sans-serif' font-size="6.5" text-anchor="end" fill="#1a1a1a" dominant-baseline="central" stroke="#1a1a1a" stroke-width="0.12" textLength="13.03" lengthAdjust="spacingAndGlyphs">0.16</text>
<line x1="368.1" y1="58.06" x2="369.7" y2="58.06" stroke="#111" stroke-width="0.9" />
<line x1="368.1" y1="54.67" x2="369.7" y2="54.67" stroke="#111" stroke-width="0.9" />
<line x1="368.1" y1="51.27" x2="369.7" y2="51.27" stroke="#111" stroke-width="0.9" />
<line x1="368.1" y1="47.88" x2="369.7" y2="47.88" stroke="#111" stroke-width="0.9" />
<line x1="365.9" y1="44.48" x2="370.3" y2="44.48" stroke="#111" stroke-width="1.0" />
<text x="361.8" y="44.68" font-family='"Liberation Sans", sans-serif' font-size="6.5" text-anchor="end" fill="#1a1a1a" dominant-baseline="central" stroke="#1a1a1a" stroke-width="0.12" textLength="13.03" lengthAdjust="spacingAndGlyphs">0.18</text>
<line x1="368.1" y1="41.08" x2="369.7" y2="41.08" stroke="#111" stroke-width="0.9" />
<line x1="368.1" y1="37.69" x2="369.7" y2="37.69" stroke="#111" stroke-width="0.9" />
<line x1="368.1" y1="34.29" x2="369.7" y2="34.29" stroke="#111" stroke-width="0.9" />
<line x1="368.1" y1="30.9" x2="369.7" y2="30.9" stroke="#111" stroke-width="0.9" />
<text x="361.8" y="27.7" font-family='"Liberation Sans", sans-serif' font-size="6.5" text-anchor="end" fill="#1a1a1a" dominant-baseline="central" stroke="#1a1a1a" stroke-width="0.12" textLength="9.31" lengthAdjust="spacingAndGlyphs">0.2</text>
<text x="368.1" y="208.5" font-family='"Liberation Sans", sans-serif' font-size="6.5" text-anchor="middle" fill="#1a1a1a" stroke="#1a1a1a" stroke-width="0.12" textLength="3.72" lengthAdjust="spacingAndGlyphs">0</text>
<line x1="376.11" y1="197.3" x2="376.11" y2="195.7" stroke="#111" stroke-width="0.9" />
<line x1="384.11" y1="197.3" x2="384.11" y2="195.7" stroke="#111" stroke-width="0.9" />
<line x1="392.12" y1="197.3" x2="392.12" y2="195.7" stroke="#111" stroke-width="0.9" />
<line x1="400.12" y1="197.3" x2="400.12" y2="195.7" stroke="#111" stroke-width="0.9" />
<line x1="408.12" y1="195.1" x2="408.12" y2="199.5" stroke="#111" stroke-width="1.0" />
<text x="408.12" y="208.5" font-family='"Liberation Sans", sans-serif' font-size="6.5" text-anchor="middle" fill="#1a1a1a" stroke="#1a1a1a" stroke-width="0.12" textLength="13.03" lengthAdjust="spacingAndGlyphs">0.05</text>
<line x1="416.13" y1="197.3" x2="416.13" y2="195.7" stroke="#111" stroke-width="0.9" />
<line x1="424.14" y1="197.3" x2="424.14" y2="195.7" stroke="#111" stroke-width="0.9" />
<line x1="432.14" y1="197.3" x2="432.14" y2="195.7" stroke="#111" stroke-width="0.9" />
<line x1="440.15" y1="197.3" x2="440.15" y2="195.7" stroke="#111" stroke-width="0.9" />
<line x1="448.15" y1="195.1" x2="448.15" y2="199.5" stroke="#111" stroke-width="1.0" />
<text x="448.15" y="208.5" font-family='"Liberation Sans", sans-serif' font-size="6.5" text-anchor="middle" fill="#1a1a1a" stroke="#1a1a1a" stroke-width="0.12" textLength="9.31" lengthAdjust="spacingAndGlyphs">0.1</text>
<line x1="456.16" y1="197.3" x2="456.16" y2="195.7" stroke="#111" stroke-width="0.9" />
<line x1="464.16" y1="197.3" x2="464.16" y2="195.7" stroke="#111" stroke-width="0.9" />
<line x1="472.17" y1="197.3" x2="472.17" y2="195.7" stroke="#111" stroke-width="0.9" />
<line x1="480.17" y1="197.3" x2="480.17" y2="195.7" stroke="#111" stroke-width="0.9" />
<line x1="488.18" y1="195.1" x2="488.18" y2="199.5" stroke="#111" stroke-width="1.0" />
<text x="488.18" y="208.5" font-family='"Liberation Sans", sans-serif' font-size="6.5" text-anchor="middle" fill="#1a1a1a" stroke="#1a1a1a" stroke-width="0.12" textLength="13.03" lengthAdjust="spacingAndGlyphs">0.15</text>
<line x1="496.18" y1="197.3" x2="496.18" y2="195.7" stroke="#111" stroke-width="0.9" />
<line x1="504.19" y1="197.3" x2="504.19" y2="195.7" stroke="#111" stroke-width="0.9" />
<line x1="512.19" y1="197.3" x2="512.19" y2="195.7" stroke="#111" stroke-width="0.9" />
<line x1="520.2" y1="197.3" x2="520.2" y2="195.7" stroke="#111" stroke-width="0.9" />
<text x="528.2" y="208.5" font-family='"Liberation Sans", sans-serif' font-size="6.5" text-anchor="middle" fill="#1a1a1a" stroke="#1a1a1a" stroke-width="0.12" textLength="9.31" lengthAdjust="spacingAndGlyphs">0.2</text>
<line x1="368.1" y1="197.3" x2="496.18" y2="61.46" stroke="#000" stroke-width="1.7" stroke-linecap="butt"/>
<circle cx="375.9" cy="181.5" r="2.5" fill="none" stroke="#000" stroke-width="1.8"/>
<circle cx="380.6" cy="174.8" r="2.5" fill="none" stroke="#000" stroke-width="1.8"/>
<circle cx="383.9" cy="172.2" r="2.5" fill="none" stroke="#000" stroke-width="1.8"/>
<circle cx="385" cy="174.6" r="2.5" fill="none" stroke="#000" stroke-width="1.8"/>
<circle cx="455.5" cy="115.3" r="2.5" fill="none" stroke="#000" stroke-width="1.8"/>
<line x1="375.9" y1="181.5" x2="455.5" y2="115.3" stroke="#f00000" stroke-width="1.2" />
<text x="411.8" y="219.6" font-family='"Liberation Sans", sans-serif' font-size="6.5" fill="#1a1a1a" stroke="#1a1a1a" stroke-width="0.1" textLength="73.1" lengthAdjust="spacingAndGlyphs">F<tspan font-size="4.03" dy="1.4">LL</tspan><tspan dy="-1.4"> from Back Calculation</tspan></text>
<text x="343.9" y="113.2" font-family='"Liberation Sans", sans-serif' font-size="6.5" fill="#1a1a1a" stroke="#1a1a1a" stroke-width="0.1" text-anchor="middle" transform="rotate(-90 343.9 113.2)" textLength="32.4" lengthAdjust="spacingAndGlyphs">F<tspan font-size="4.03" dy="1.4">LL</tspan><tspan dy="-1.4"> from Eq</tspan></text>
<text x="389.6" y="58.4" font-family='"Liberation Serif", serif' font-size="9.6" fill="#111" textLength="33.4" lengthAdjust="spacingAndGlyphs">R<tspan font-size="5.3" dy="-3.0">2</tspan><tspan dy="3.0"> = 0.96</tspan></text>
<text x="389.6" y="71.4" font-family='"Liberation Serif", serif' font-size="9.6" fill="#111" textLength="48.4" lengthAdjust="spacingAndGlyphs">LCCC = 0.94</text>
<line x1="41.2" y1="319" x2="127.2" y2="293.1" stroke="#a8a8a8" stroke-width="0.7" />
<line x1="127.2" y1="293.1" x2="215.4" y2="319.9" stroke="#a8a8a8" stroke-width="0.7" />
<line x1="127.2" y1="293.1" x2="125.3" y2="388.9" stroke="#a8a8a8" stroke-width="0.7" />
<line x1="215.4" y1="319.9" x2="207.2" y2="425.3" stroke="#b8b8b8" stroke-width="0.7" />
<line x1="47.4" y1="425.4" x2="125.3" y2="388.9" stroke="#a8a8a8" stroke-width="0.7" />
<line x1="207.2" y1="425.3" x2="125.3" y2="388.9" stroke="#a8a8a8" stroke-width="0.7" />
<g shape-rendering="geometricPrecision">
<polygon points="133.28,452.63 136.6,455.5 137.46,453.96" fill="#740082"/>
<polygon points="130,449.78 135.27,454.35 136.94,454.88 138.32,452.42" fill="#7c008d"/>
<polygon points="126.73,446.96 131.97,451.49 137.8,453.34 139.18,450.88" fill="#840098"/>
<polygon points="123.49,444.16 128.69,448.65 138.66,451.8 140.04,449.34" fill="#8700a6"/>
<polygon points="120.28,441.38 125.43,445.84 139.52,450.26 140.89,447.79" fill="#8900b5"/>
<polygon points="117.09,438.62 122.21,443.04 140.38,448.72 141.75,446.25" fill="#8b00c4"/>
<polygon points="113.93,435.88 119,440.27 141.24,447.18 142.61,444.71" fill="#8b00d3"/>
<polygon points="110.79,433.16 115.83,437.52 142.1,445.64 143.47,443.17" fill="#8400e2"/>
<polygon points="107.68,430.47 112.67,434.79 142.95,444.1 144.33,441.63" fill="#7e00f1"/>
<polygon points="104.59,427.79 109.54,432.08 143.81,442.56 145.18,440.1" fill="#7700ff"/>
<polygon points="101.52,425.14 106.44,429.39 144.67,441.02 146.04,438.56" fill="#5a00ff"/>
<polygon points="98.47,422.5 103.36,426.73 145.53,439.48 146.9,437.02" fill="#3d00ff"/>
<polygon points="95.45,419.89 100.3,424.08 146.38,437.94 147.76,435.48" fill="#2000ff"/>
<polygon points="92.45,417.29 97.26,421.45 147.24,436.4 148.61,433.94" fill="#0701ff"/>
<polygon points="89.48,414.71 94.25,418.85 148.1,434.86 149.47,432.4" fill="#030aff"/>
<polygon points="86.52,412.16 91.26,416.26 148.96,433.33 150.33,430.86" fill="#0015ff"/>
<polygon points="83.59,409.62 88.29,413.69 149.81,431.79 151.18,429.33" fill="#002eff"/>
<polygon points="80.68,407.1 85.35,411.14 150.67,430.25 152.04,427.79" fill="#0048ff"/>
<polygon points="77.79,404.6 82.43,408.61 151.53,428.71 152.9,426.25" fill="#0061ff"/>
<polygon points="74.93,402.12 79.53,406.1 152.38,427.17 153.75,424.72" fill="#007aff"/>
<polygon points="72.08,399.66 76.65,403.61 153.24,425.64 154.61,423.18" fill="#0093ff"/>
<polygon points="71.9,399.5 73.79,401.13 154.1,424.1 155.47,421.64 72.65,398.17" fill="#00adff"/>
<polygon points="154.95,422.56 156.32,420.11 73.44,396.75 72.17,399.02" fill="#00c6ff"/>
<polygon points="155.81,421.03 157.18,418.57 74.24,395.34 72.97,397.6" fill="#00dfff"/>
<polygon points="156.67,419.49 158.03,417.03 75.04,393.92 73.76,396.19" fill="#00f8ff"/>
<polygon points="157.52,417.96 158.89,415.5 75.84,392.5 74.56,394.77" fill="#00fcf6"/>
<polygon points="158.38,416.42 159.75,413.96 76.63,391.08 75.36,393.35" fill="#01ffd8"/>
<polygon points="159.23,414.88 160.6,412.43 77.43,389.67 76.15,391.93" fill="#05ff6d"/>
<polygon points="160.09,413.35 161.46,410.89 78.23,388.25 76.95,390.52" fill="#09ff08"/>
<polygon points="160.94,411.81 162.31,409.36 79.02,386.83 77.75,389.1" fill="#18ff07"/>
<polygon points="161.8,410.28 163.17,407.83 79.82,385.42 78.54,387.68" fill="#27ff07"/>
<polygon points="162.65,408.75 164.02,406.29 80.61,384 79.34,386.27" fill="#36ff07"/>
<polygon points="163.51,407.21 164.88,404.76 81.41,382.58 80.14,384.85" fill="#45ff06"/>
<polygon points="164.36,405.68 165.73,403.22 82.21,381.17 80.93,383.43" fill="#53ff06"/>
<polygon points="165.22,404.14 166.58,401.69 83,379.75 81.73,382.02" fill="#62ff05"/>
<polygon points="166.07,402.61 167.44,400.16 83.8,378.34 82.53,380.6" fill="#71ff05"/>
<polygon points="166.93,401.08 168.29,398.62 84.59,376.92 83.32,379.18" fill="#80ff04"/>
<polygon points="167.78,399.54 169.15,397.09 85.39,375.5 84.12,377.77" fill="#8fff04"/>
<polygon points="168.63,398.01 170,395.56 86.19,374.09 84.91,376.35" fill="#9eff03"/>
<polygon points="169.49,396.48 170.85,394.03 86.98,372.67 85.71,374.94" fill="#adff03"/>
<polygon points="170.34,394.95 171.71,392.5 87.78,371.26 86.5,373.52" fill="#bcff02"/>
<polygon points="171.2,393.42 172.56,390.96 88.57,369.85 87.3,372.11" fill="#cbff02"/>
<polygon points="172.05,391.88 173.42,389.43 89.37,368.43 88.09,370.69" fill="#daff01"/>
<polygon points="172.9,390.35 174.27,387.9 90.16,367.02 88.89,369.28" fill="#e9ff01"/>
<polygon points="173.76,388.82 175.12,386.37 90.96,365.6 89.68,367.87" fill="#f8ff00"/>
<polygon points="174.61,387.29 175.97,384.84 91.75,364.19 90.48,366.45" fill="#fff800"/>
<polygon points="175.46,385.76 176.83,383.31 92.54,362.78 91.27,365.04" fill="#ffea00"/>
<polygon points="176.32,384.23 177.68,381.78 93.34,361.36 92.07,363.63" fill="#ffdc00"/>
<polygon points="177.17,382.7 178.53,380.25 94.13,359.95 92.86,362.21" fill="#ffce00"/>
<polygon points="178.02,381.17 179.38,378.72 94.93,358.54 93.66,360.8" fill="#ffc000"/>
<polygon points="178.87,379.64 180.24,377.19 95.72,357.13 94.45,359.39" fill="#ffb100"/>
<polygon points="179.73,378.11 181.09,375.66 96.52,355.71 95.25,357.97" fill="#ffa300"/>
<polygon points="180.58,376.58 181.94,374.13 97.31,354.3 96.04,356.56" fill="#ff9500"/>
<polygon points="181.43,375.05 182.79,372.6 98.1,352.89 96.83,355.15" fill="#ff8700"/>
<polygon points="182.28,373.52 183.64,371.08 98.9,351.48 97.63,353.74" fill="#ff7400"/>
<polygon points="183.13,371.99 184.5,369.55 99.69,350.07 98.42,352.33" fill="#ff5c00"/>
<polygon points="183.99,370.46 185.35,368.02 100.48,348.66 99.21,350.91" fill="#ff4300"/>
<polygon points="184.84,368.94 186.2,366.49 101.28,347.24 100.01,349.5" fill="#ff2b00"/>
<polygon points="185.69,367.41 187.05,364.96 102.07,345.83 100.8,348.09" fill="#ff1300"/>
<polygon points="186.54,365.88 187.9,363.44 102.86,344.42 101.59,346.68" fill="#ff0800"/>
<polygon points="187.39,364.35 188.75,361.91 103.66,343.01 102.39,345.27" fill="#fe0700"/>
<polygon points="188.24,362.83 189.6,360.38 104.45,341.6 103.18,343.86" fill="#fe0600"/>
<polygon points="189.09,361.3 190.45,358.86 105.24,340.19 103.97,342.45" fill="#fd0600"/>
<polygon points="189.94,359.77 191.3,357.33 106.03,338.78 104.77,341.04" fill="#fd0500"/>
<polygon points="190.79,358.25 192.15,355.8 106.83,337.37 105.56,339.63" fill="#fc0500"/>
<polygon points="191.64,356.72 193,354.28 107.62,335.96 106.35,338.22" fill="#fb0400"/>
<polygon points="192.49,355.19 193.85,352.75 108.41,334.55 107.14,336.81" fill="#fb0300"/>
<polygon points="193.34,353.67 194.7,351.23 109.2,333.15 107.94,335.4" fill="#fa0300"/>
<polygon points="194.19,352.14 195.5,349.8 195.27,349.64 109.99,331.74 108.73,333.99" fill="#fa0200"/>
<polygon points="195.04,350.62 195.5,349.8 191.75,347.21 110.79,330.33 109.52,332.58" fill="#f90200"/>
<polygon points="193.86,348.67 188.25,344.79 111.58,328.92 110.31,331.17" fill="#f90100"/>
<polygon points="190.34,346.24 184.77,342.39 112.37,327.51 111.1,329.77" fill="#f80000"/>
<polygon points="186.85,343.83 181.33,340.01 113.16,326.1 111.9,328.36" fill="#f50000"/>
<polygon points="183.39,341.44 177.91,337.65 113.95,324.7 112.69,326.95" fill="#ed0000"/>
<polygon points="179.96,339.06 174.52,335.3 114.74,323.29 113.48,325.54" fill="#e70000"/>
<polygon points="176.55,336.71 171.15,332.98 115.54,321.88 114.27,324.13" fill="#e00000"/>
<polygon points="173.17,334.37 167.81,330.67 116.33,320.47 115.06,322.73" fill="#d90000"/>
<polygon points="169.81,332.05 164.5,328.38 117.12,319.07 115.85,321.32" fill="#d20000"/>
<polygon points="166.48,329.75 161.21,326.11 117.91,317.66 116.64,319.91" fill="#ca0000"/>
<polygon points="163.18,327.47 157.94,323.85 118.7,316.25 117.43,318.5" fill="#c40000"/>
<polygon points="159.9,325.2 154.7,321.61 119.49,314.85 118.22,317.1" fill="#bc0000"/>
<polygon points="156.64,322.95 151.48,319.39 120.28,313.44 119.02,315.69" fill="#b60000"/>
<polygon points="153.41,320.72 148.29,317.19 121.07,312.04 119.81,314.29" fill="#ae0000"/>
<polygon points="150.2,318.51 145.12,315 121.86,310.63 120.6,312.88" fill="#a80000"/>
<polygon points="147.02,316.31 141.98,312.82 122.65,309.22 121.39,311.47" fill="#a00000"/>
<polygon points="143.86,314.13 138.86,310.67 123.44,307.82 122.18,310.07" fill="#9a0000"/>
<polygon points="140.73,311.96 135.76,308.53 124.23,306.41 122.97,308.66" fill="#920000"/>
<polygon points="137.62,309.81 132.68,306.4 125.02,305.01 123.76,307.26" fill="#8c0000"/>
<polygon points="134.53,307.68 129.63,304.29 125.81,303.6 124.55,305.85" fill="#840000"/>
<polygon points="131.46,305.56 126.6,302.2 125.34,304.45" fill="#7e0000"/>
</g>
<line x1="132.87" y1="452.27" x2="137.57" y2="453.77" stroke="#000" stroke-width="0.45" stroke-opacity="0.10"/>
<line x1="129.18" y1="449.08" x2="138.53" y2="452.03" stroke="#000" stroke-width="0.45" stroke-opacity="0.10"/>
<line x1="125.51" y1="445.91" x2="139.5" y2="450.3" stroke="#000" stroke-width="0.45" stroke-opacity="0.10"/>
<line x1="121.88" y1="442.76" x2="140.46" y2="448.56" stroke="#000" stroke-width="0.45" stroke-opacity="0.10"/>
<line x1="118.29" y1="439.65" x2="141.43" y2="446.83" stroke="#000" stroke-width="0.45" stroke-opacity="0.10"/>
<line x1="114.72" y1="436.56" x2="142.4" y2="445.1" stroke="#000" stroke-width="0.45" stroke-opacity="0.10"/>
<line x1="111.18" y1="433.5" x2="143.36" y2="443.37" stroke="#000" stroke-width="0.45" stroke-opacity="0.10"/>
<line x1="107.68" y1="430.47" x2="144.33" y2="441.63" stroke="#000" stroke-width="0.5" stroke-opacity="0.30"/>
<line x1="104.2" y1="427.46" x2="145.29" y2="439.9" stroke="#000" stroke-width="0.45" stroke-opacity="0.10"/>
<line x1="100.76" y1="424.47" x2="146.26" y2="438.17" stroke="#000" stroke-width="0.45" stroke-opacity="0.10"/>
<line x1="97.34" y1="421.52" x2="147.22" y2="436.44" stroke="#000" stroke-width="0.45" stroke-opacity="0.10"/>
<line x1="93.95" y1="418.59" x2="148.19" y2="434.71" stroke="#000" stroke-width="0.45" stroke-opacity="0.10"/>
<line x1="90.59" y1="415.68" x2="149.15" y2="432.98" stroke="#000" stroke-width="0.45" stroke-opacity="0.10"/>
<line x1="87.26" y1="412.8" x2="150.11" y2="431.25" stroke="#000" stroke-width="0.45" stroke-opacity="0.10"/>
<line x1="83.96" y1="409.94" x2="151.08" y2="429.52" stroke="#000" stroke-width="0.45" stroke-opacity="0.10"/>
<line x1="80.68" y1="407.1" x2="152.04" y2="427.79" stroke="#000" stroke-width="0.5" stroke-opacity="0.30"/>
<line x1="77.43" y1="404.29" x2="153.01" y2="426.06" stroke="#000" stroke-width="0.45" stroke-opacity="0.10"/>
<line x1="74.21" y1="401.5" x2="153.97" y2="424.33" stroke="#000" stroke-width="0.45" stroke-opacity="0.10"/>
<line x1="154.93" y1="422.6" x2="72.15" y2="399.06" stroke="#000" stroke-width="0.45" stroke-opacity="0.10"/>
<line x1="155.89" y1="420.87" x2="73.05" y2="397.46" stroke="#000" stroke-width="0.45" stroke-opacity="0.10"/>
<line x1="156.86" y1="419.15" x2="73.94" y2="395.87" stroke="#000" stroke-width="0.45" stroke-opacity="0.10"/>
<line x1="157.82" y1="417.42" x2="74.84" y2="394.27" stroke="#000" stroke-width="0.45" stroke-opacity="0.10"/>
<line x1="158.78" y1="415.69" x2="75.74" y2="392.68" stroke="#000" stroke-width="0.45" stroke-opacity="0.10"/>
<line x1="159.75" y1="413.96" x2="76.63" y2="391.08" stroke="#000" stroke-width="0.5" stroke-opacity="0.30"/>
<line x1="160.71" y1="412.24" x2="77.53" y2="389.49" stroke="#000" stroke-width="0.45" stroke-opacity="0.10"/>
<line x1="161.67" y1="410.51" x2="78.42" y2="387.89" stroke="#000" stroke-width="0.45" stroke-opacity="0.10"/>
<line x1="162.63" y1="408.78" x2="79.32" y2="386.3" stroke="#000" stroke-width="0.45" stroke-opacity="0.10"/>
<line x1="163.59" y1="407.06" x2="80.22" y2="384.71" stroke="#000" stroke-width="0.45" stroke-opacity="0.10"/>
<line x1="164.56" y1="405.33" x2="81.11" y2="383.11" stroke="#000" stroke-width="0.45" stroke-opacity="0.10"/>
<line x1="165.52" y1="403.61" x2="82.01" y2="381.52" stroke="#000" stroke-width="0.45" stroke-opacity="0.10"/>
<line x1="166.48" y1="401.88" x2="82.9" y2="379.93" stroke="#000" stroke-width="0.45" stroke-opacity="0.10"/>
<line x1="167.44" y1="400.16" x2="83.8" y2="378.34" stroke="#000" stroke-width="0.5" stroke-opacity="0.30"/>
<line x1="168.4" y1="398.43" x2="84.69" y2="376.74" stroke="#000" stroke-width="0.45" stroke-opacity="0.10"/>
<line x1="169.36" y1="396.71" x2="85.59" y2="375.15" stroke="#000" stroke-width="0.45" stroke-opacity="0.10"/>
<line x1="170.32" y1="394.99" x2="86.48" y2="373.56" stroke="#000" stroke-width="0.45" stroke-opacity="0.10"/>
<line x1="171.28" y1="393.26" x2="87.38" y2="371.97" stroke="#000" stroke-width="0.45" stroke-opacity="0.10"/>
<line x1="172.24" y1="391.54" x2="88.27" y2="370.38" stroke="#000" stroke-width="0.45" stroke-opacity="0.10"/>
<line x1="173.2" y1="389.82" x2="89.17" y2="368.79" stroke="#000" stroke-width="0.45" stroke-opacity="0.10"/>
<line x1="174.16" y1="388.09" x2="90.06" y2="367.19" stroke="#000" stroke-width="0.45" stroke-opacity="0.10"/>
<line x1="175.12" y1="386.37" x2="90.96" y2="365.6" stroke="#000" stroke-width="0.5" stroke-opacity="0.30"/>
<line x1="176.08" y1="384.65" x2="91.85" y2="364.01" stroke="#000" stroke-width="0.45" stroke-opacity="0.10"/>
<line x1="177.04" y1="382.93" x2="92.74" y2="362.42" stroke="#000" stroke-width="0.45" stroke-opacity="0.10"/>
<line x1="178" y1="381.21" x2="93.64" y2="360.83" stroke="#000" stroke-width="0.45" stroke-opacity="0.10"/>
<line x1="178.96" y1="379.49" x2="94.53" y2="359.25" stroke="#000" stroke-width="0.45" stroke-opacity="0.10"/>
<line x1="179.92" y1="377.76" x2="95.42" y2="357.66" stroke="#000" stroke-width="0.45" stroke-opacity="0.10"/>
<line x1="180.88" y1="376.04" x2="96.32" y2="356.07" stroke="#000" stroke-width="0.45" stroke-opacity="0.10"/>
<line x1="181.83" y1="374.32" x2="97.21" y2="354.48" stroke="#000" stroke-width="0.45" stroke-opacity="0.10"/>
<line x1="182.79" y1="372.6" x2="98.1" y2="352.89" stroke="#000" stroke-width="0.5" stroke-opacity="0.30"/>
<line x1="183.75" y1="370.88" x2="99" y2="351.3" stroke="#000" stroke-width="0.45" stroke-opacity="0.10"/>
<line x1="184.71" y1="369.17" x2="99.89" y2="349.71" stroke="#000" stroke-width="0.45" stroke-opacity="0.10"/>
<line x1="185.67" y1="367.45" x2="100.78" y2="348.13" stroke="#000" stroke-width="0.45" stroke-opacity="0.10"/>
<line x1="186.62" y1="365.73" x2="101.67" y2="346.54" stroke="#000" stroke-width="0.45" stroke-opacity="0.10"/>
<line x1="187.58" y1="364.01" x2="102.57" y2="344.95" stroke="#000" stroke-width="0.45" stroke-opacity="0.10"/>
<line x1="188.54" y1="362.29" x2="103.46" y2="343.37" stroke="#000" stroke-width="0.45" stroke-opacity="0.10"/>
<line x1="189.5" y1="360.57" x2="104.35" y2="341.78" stroke="#000" stroke-width="0.45" stroke-opacity="0.10"/>
<line x1="190.45" y1="358.86" x2="105.24" y2="340.19" stroke="#000" stroke-width="0.5" stroke-opacity="0.30"/>
<line x1="191.41" y1="357.14" x2="106.13" y2="338.61" stroke="#000" stroke-width="0.45" stroke-opacity="0.10"/>
<line x1="192.37" y1="355.42" x2="107.02" y2="337.02" stroke="#000" stroke-width="0.45" stroke-opacity="0.10"/>
<line x1="193.32" y1="353.71" x2="107.92" y2="335.44" stroke="#000" stroke-width="0.45" stroke-opacity="0.10"/>
<line x1="194.28" y1="351.99" x2="108.81" y2="333.85" stroke="#000" stroke-width="0.45" stroke-opacity="0.10"/>
<line x1="195.24" y1="350.27" x2="109.7" y2="332.27" stroke="#000" stroke-width="0.45" stroke-opacity="0.10"/>
<line x1="192.63" y1="347.81" x2="110.59" y2="330.68" stroke="#000" stroke-width="0.45" stroke-opacity="0.10"/>
<line x1="188.68" y1="345.09" x2="111.48" y2="329.1" stroke="#000" stroke-width="0.45" stroke-opacity="0.10"/>
<line x1="184.77" y1="342.39" x2="112.37" y2="327.51" stroke="#000" stroke-width="0.5" stroke-opacity="0.30"/>
<line x1="180.9" y1="339.71" x2="113.26" y2="325.93" stroke="#000" stroke-width="0.45" stroke-opacity="0.10"/>
<line x1="177.06" y1="337.06" x2="114.15" y2="324.34" stroke="#000" stroke-width="0.45" stroke-opacity="0.10"/>
<line x1="173.25" y1="334.43" x2="115.04" y2="322.76" stroke="#000" stroke-width="0.45" stroke-opacity="0.10"/>
<line x1="169.48" y1="331.82" x2="115.93" y2="321.18" stroke="#000" stroke-width="0.45" stroke-opacity="0.10"/>
<line x1="165.74" y1="329.24" x2="116.82" y2="319.59" stroke="#000" stroke-width="0.45" stroke-opacity="0.10"/>
<line x1="162.03" y1="326.67" x2="117.71" y2="318.01" stroke="#000" stroke-width="0.45" stroke-opacity="0.10"/>
<line x1="158.35" y1="324.13" x2="118.6" y2="316.43" stroke="#000" stroke-width="0.45" stroke-opacity="0.10"/>
<line x1="154.7" y1="321.61" x2="119.49" y2="314.85" stroke="#000" stroke-width="0.5" stroke-opacity="0.30"/>
<line x1="151.08" y1="319.11" x2="120.38" y2="313.27" stroke="#000" stroke-width="0.45" stroke-opacity="0.10"/>
<line x1="147.5" y1="316.64" x2="121.27" y2="311.68" stroke="#000" stroke-width="0.45" stroke-opacity="0.10"/>
<line x1="143.94" y1="314.18" x2="122.16" y2="310.1" stroke="#000" stroke-width="0.45" stroke-opacity="0.10"/>
<line x1="140.42" y1="311.74" x2="123.05" y2="308.52" stroke="#000" stroke-width="0.45" stroke-opacity="0.10"/>
<line x1="136.92" y1="309.33" x2="123.93" y2="306.94" stroke="#000" stroke-width="0.45" stroke-opacity="0.10"/>
<line x1="133.45" y1="306.93" x2="124.82" y2="305.36" stroke="#000" stroke-width="0.45" stroke-opacity="0.10"/>
<line x1="130.01" y1="304.56" x2="125.71" y2="303.78" stroke="#000" stroke-width="0.45" stroke-opacity="0.10"/>
<circle cx="112.8" cy="339.5" r="1.3" fill="#000"/>
<circle cx="109.8" cy="341.3" r="1.3" fill="#000"/>
<circle cx="105.7" cy="354.8" r="1.3" fill="#000"/>
<circle cx="146.9" cy="357.7" r="1.3" fill="#000"/>
<circle cx="173.7" cy="368.9" r="1.3" fill="#000"/>
<circle cx="97.1" cy="366.9" r="1.3" fill="#000"/>
<circle cx="88.9" cy="371.8" r="1.3" fill="#000"/>
<circle cx="93.2" cy="373.7" r="1.3" fill="#000"/>
<circle cx="99" cy="374.7" r="1.3" fill="#000"/>
<circle cx="80.2" cy="378.3" r="1.3" fill="#000"/>
<circle cx="82.4" cy="379.6" r="1.3" fill="#000"/>
<circle cx="87.1" cy="379.7" r="1.3" fill="#000"/>
<circle cx="80.7" cy="385.7" r="1.3" fill="#000"/>
<circle cx="83.7" cy="387.1" r="1.3" fill="#000"/>
<circle cx="81.5" cy="392.8" r="1.3" fill="#000"/>
<circle cx="113.8" cy="397.5" r="1.3" fill="#000"/>
<circle cx="71.9" cy="399.2" r="1.3" fill="#000"/>
<circle cx="196.3" cy="343.5" r="1.3" fill="#000"/>
<line x1="93.2" y1="373.7" x2="96.3" y2="372.4" stroke="#000" stroke-width="0.7" stroke-linecap="round"/>
<line x1="83.7" y1="387.1" x2="86.5" y2="385.6" stroke="#000" stroke-width="0.7" stroke-linecap="round"/>
<line x1="41.2" y1="319" x2="47.4" y2="425.4" stroke="#3a3a3a" stroke-width="0.8" />
<line x1="47.4" y1="425.4" x2="129.2" y2="472.3" stroke="#3a3a3a" stroke-width="0.8" />
<line x1="129.2" y1="472.3" x2="207.2" y2="425.3" stroke="#3a3a3a" stroke-width="0.8" />
<line x1="41.19" y1="318.9" x2="38.99" y2="319.6" stroke="#3a3a3a" stroke-width="0.8" />
<text x="37.39" y="320.8" font-family='"Liberation Sans", sans-serif' font-size="5.2" text-anchor="end" fill="#111" dominant-baseline="central" transform="rotate(-20 37.39 320.8)" >0.18</text>
<line x1="41.88" y1="330.7" x2="39.68" y2="331.4" stroke="#3a3a3a" stroke-width="0.8" />
<text x="38.08" y="332.6" font-family='"Liberation Sans", sans-serif' font-size="5.2" text-anchor="end" fill="#111" dominant-baseline="central" transform="rotate(-20 38.08 332.6)" >0.16</text>
<line x1="42.55" y1="342.2" x2="40.35" y2="342.9" stroke="#3a3a3a" stroke-width="0.8" />
<text x="38.75" y="344.1" font-family='"Liberation Sans", sans-serif' font-size="5.2" text-anchor="end" fill="#111" dominant-baseline="central" transform="rotate(-20 38.75 344.1)" >0.14</text>
<line x1="43.22" y1="353.6" x2="41.02" y2="354.3" stroke="#3a3a3a" stroke-width="0.8" />
<text x="39.42" y="355.5" font-family='"Liberation Sans", sans-serif' font-size="5.2" text-anchor="end" fill="#111" dominant-baseline="central" transform="rotate(-20 39.42 355.5)" >0.12</text>
<line x1="43.85" y1="364.5" x2="41.65" y2="365.2" stroke="#3a3a3a" stroke-width="0.8" />
<text x="40.05" y="366.4" font-family='"Liberation Sans", sans-serif' font-size="5.2" text-anchor="end" fill="#111" dominant-baseline="central" transform="rotate(-20 40.05 366.4)" >0.10</text>
<line x1="44.47" y1="375.2" x2="42.27" y2="375.9" stroke="#3a3a3a" stroke-width="0.8" />
<text x="40.67" y="377.1" font-family='"Liberation Sans", sans-serif' font-size="5.2" text-anchor="end" fill="#111" dominant-baseline="central" transform="rotate(-20 40.67 377.1)" >0.08</text>
<line x1="45.08" y1="385.5" x2="42.88" y2="386.2" stroke="#3a3a3a" stroke-width="0.8" />
<text x="41.28" y="387.4" font-family='"Liberation Sans", sans-serif' font-size="5.2" text-anchor="end" fill="#111" dominant-baseline="central" transform="rotate(-20 41.28 387.4)" >0.06</text>
<line x1="45.68" y1="395.9" x2="43.48" y2="396.6" stroke="#3a3a3a" stroke-width="0.8" />
<text x="41.88" y="397.8" font-family='"Liberation Sans", sans-serif' font-size="5.2" text-anchor="end" fill="#111" dominant-baseline="central" transform="rotate(-20 41.88 397.8)" >0.04</text>
<line x1="46.26" y1="405.8" x2="44.06" y2="406.5" stroke="#3a3a3a" stroke-width="0.8" />
<text x="42.46" y="407.7" font-family='"Liberation Sans", sans-serif' font-size="5.2" text-anchor="end" fill="#111" dominant-baseline="central" transform="rotate(-20 42.46 407.7)" >0.02</text>
<line x1="46.83" y1="415.6" x2="44.63" y2="416.3" stroke="#3a3a3a" stroke-width="0.8" />
<text x="43.03" y="417.5" font-family='"Liberation Sans", sans-serif' font-size="5.2" text-anchor="end" fill="#111" dominant-baseline="central" transform="rotate(-20 43.03 417.5)" >0.00</text>
<line x1="47.39" y1="425.3" x2="45.19" y2="426" stroke="#3a3a3a" stroke-width="0.8" />
<text x="43.59" y="427.2" font-family='"Liberation Sans", sans-serif' font-size="5.2" text-anchor="end" fill="#111" dominant-baseline="central" transform="rotate(-20 43.59 427.2)" >-0.02</text>
<line x1="54" y1="429.4" x2="51.77" y2="430.74" stroke="#3a3a3a" stroke-width="0.8" />
<text x="51.5" y="430.45" font-family='"Liberation Sans", sans-serif' font-size="5.2" text-anchor="end" fill="#111" dominant-baseline="central" transform="rotate(-30 51.5 430.45)" >0</text>
<line x1="70" y1="438.4" x2="67.77" y2="439.74" stroke="#3a3a3a" stroke-width="0.8" />
<text x="67.5" y="439.45" font-family='"Liberation Sans", sans-serif' font-size="5.2" text-anchor="end" fill="#111" dominant-baseline="central" transform="rotate(-30 67.5 439.45)" >20</text>
<line x1="86" y1="447.6" x2="83.77" y2="448.94" stroke="#3a3a3a" stroke-width="0.8" />
<text x="83.5" y="448.65" font-family='"Liberation Sans", sans-serif' font-size="5.2" text-anchor="end" fill="#111" dominant-baseline="central" transform="rotate(-30 83.5 448.65)" >40</text>
<line x1="103" y1="457.4" x2="100.77" y2="458.74" stroke="#3a3a3a" stroke-width="0.8" />
<text x="100.5" y="458.45" font-family='"Liberation Sans", sans-serif' font-size="5.2" text-anchor="end" fill="#111" dominant-baseline="central" transform="rotate(-30 100.5 458.45)" >60</text>
<line x1="120.6" y1="467.4" x2="118.37" y2="468.74" stroke="#3a3a3a" stroke-width="0.8" />
<text x="118.1" y="468.45" font-family='"Liberation Sans", sans-serif' font-size="5.2" text-anchor="end" fill="#111" dominant-baseline="central" transform="rotate(-30 118.1 468.45)" >80</text>
<line x1="62" y1="433.9" x2="60.8" y2="434.62" stroke="#3a3a3a" stroke-width="0.6400000000000001" />
<line x1="78" y1="443" x2="76.8" y2="443.72" stroke="#3a3a3a" stroke-width="0.6400000000000001" />
<line x1="94.5" y1="452.5" x2="93.3" y2="453.22" stroke="#3a3a3a" stroke-width="0.6400000000000001" />
<line x1="111.8" y1="462.4" x2="110.6" y2="463.12" stroke="#3a3a3a" stroke-width="0.6400000000000001" />
<line x1="141" y1="465.4" x2="143.26" y2="466.69" stroke="#3a3a3a" stroke-width="0.8" />
<text x="146.2" y="468.9" font-family='"Liberation Sans", sans-serif' font-size="5.2" text-anchor="middle" fill="#111" dominant-baseline="central" transform="rotate(30 146.2 468.9)" >1.0</text>
<line x1="161" y1="453" x2="163.26" y2="454.29" stroke="#3a3a3a" stroke-width="0.8" />
<text x="166.2" y="456.5" font-family='"Liberation Sans", sans-serif' font-size="5.2" text-anchor="middle" fill="#111" dominant-baseline="central" transform="rotate(30 166.2 456.5)" >1.1</text>
<line x1="180.4" y1="441.4" x2="182.66" y2="442.69" stroke="#3a3a3a" stroke-width="0.8" />
<text x="185.6" y="444.9" font-family='"Liberation Sans", sans-serif' font-size="5.2" text-anchor="middle" fill="#111" dominant-baseline="central" transform="rotate(30 185.6 444.9)" >1.2</text>
<line x1="199" y1="430" x2="201.26" y2="431.29" stroke="#3a3a3a" stroke-width="0.8" />
<text x="204.2" y="433.5" font-family='"Liberation Sans", sans-serif' font-size="5.2" text-anchor="middle" fill="#111" dominant-baseline="central" transform="rotate(30 204.2 433.5)" >1.3</text>
<line x1="151" y1="459.2" x2="152.21" y2="459.9" stroke="#3a3a3a" stroke-width="0.6400000000000001" />
<line x1="170.7" y1="447.2" x2="171.91" y2="447.9" stroke="#3a3a3a" stroke-width="0.6400000000000001" />
<line x1="189.7" y1="435.7" x2="190.91" y2="436.4" stroke="#3a3a3a" stroke-width="0.6400000000000001" />
<text x="26.7" y="379.5" font-family='"Liberation Sans", sans-serif' font-size="6.1" text-anchor="middle" dominant-baseline="central" fill="#111" stroke="#111" stroke-width="0.2" transform="rotate(100 26.7 379.5)">F</text>
<text x="24" y="385.2" font-family='"Liberation Sans", sans-serif' font-size="4.15" text-anchor="middle" dominant-baseline="central" fill="#111" stroke="#111" stroke-width="0.15" transform="rotate(100 24 385.2)">LL</text>
<text x="71.4" y="453.6" font-family='"Liberation Sans", sans-serif' font-size="6.0" text-anchor="middle" fill="#111" dominant-baseline="central" transform="rotate(30 71.4 453.6)" >σ</text>
<text x="187.4" y="455" font-family='"Liberation Sans", sans-serif' font-size="6.0" text-anchor="middle" fill="#111" dominant-baseline="central" transform="rotate(-31 187.4 455)" >N</text>
<defs><linearGradient id="g2" x1="0" y1="0" x2="0" y2="1">
<stop offset="0.0" stop-color="#70007c"/>
<stop offset="0.03" stop-color="#86009a"/>
<stop offset="0.07" stop-color="#8c00d0"/>
<stop offset="0.105" stop-color="#7800ff"/>
<stop offset="0.148" stop-color="#0800ff"/>
<stop offset="0.17" stop-color="#0010ff"/>
<stop offset="0.272" stop-color="#00f8ff"/>
<stop offset="0.292" stop-color="#00fff0"/>
<stop offset="0.316" stop-color="#08ff08"/>
<stop offset="0.5" stop-color="#ffff00"/>
<stop offset="0.6" stop-color="#ff8000"/>
<stop offset="0.655" stop-color="#ff0800"/>
<stop offset="0.8" stop-color="#f80000"/>
<stop offset="1.0" stop-color="#7a0000"/>
</linearGradient></defs>
<rect x="221.5" y="292.4" width="19.4" height="83.4" fill="url(#g2)"/>
<line x1="221.5" y1="292.7" x2="240.9" y2="292.7" stroke="#2a1030" stroke-width="0.8" />
<line x1="240.9" y1="292.4" x2="240.9" y2="375.8" stroke="#333" stroke-width="0.7" />
<line x1="240.9" y1="292.7" x2="243.9" y2="292.7" stroke="#222" stroke-width="0.9" />
<text x="245.5" y="292.7" font-family='"Liberation Sans", sans-serif' font-size="4.3" text-anchor="start" fill="#111" dominant-baseline="central" >-0.01450</text>
<line x1="240.9" y1="301.01" x2="243.9" y2="301.01" stroke="#222" stroke-width="0.9" />
<text x="245.5" y="301.01" font-family='"Liberation Sans", sans-serif' font-size="4.3" text-anchor="start" fill="#111" dominant-baseline="central" >0.004300</text>
<line x1="240.9" y1="309.32" x2="243.9" y2="309.32" stroke="#222" stroke-width="0.9" />
<text x="245.5" y="309.32" font-family='"Liberation Sans", sans-serif' font-size="4.3" text-anchor="start" fill="#111" dominant-baseline="central" >0.02310</text>
<line x1="240.9" y1="317.63" x2="243.9" y2="317.63" stroke="#222" stroke-width="0.9" />
<text x="245.5" y="317.63" font-family='"Liberation Sans", sans-serif' font-size="4.3" text-anchor="start" fill="#111" dominant-baseline="central" >0.04190</text>
<line x1="240.9" y1="325.94" x2="243.9" y2="325.94" stroke="#222" stroke-width="0.9" />
<text x="245.5" y="325.94" font-family='"Liberation Sans", sans-serif' font-size="4.3" text-anchor="start" fill="#111" dominant-baseline="central" >0.06070</text>
<line x1="240.9" y1="334.25" x2="243.9" y2="334.25" stroke="#222" stroke-width="0.9" />
<text x="245.5" y="334.25" font-family='"Liberation Sans", sans-serif' font-size="4.3" text-anchor="start" fill="#111" dominant-baseline="central" >0.07950</text>
<line x1="240.9" y1="342.56" x2="243.9" y2="342.56" stroke="#222" stroke-width="0.9" />
<text x="245.5" y="342.56" font-family='"Liberation Sans", sans-serif' font-size="4.3" text-anchor="start" fill="#111" dominant-baseline="central" >0.09830</text>
<line x1="240.9" y1="350.87" x2="243.9" y2="350.87" stroke="#222" stroke-width="0.9" />
<text x="245.5" y="350.87" font-family='"Liberation Sans", sans-serif' font-size="4.3" text-anchor="start" fill="#111" dominant-baseline="central" >0.1171</text>
<line x1="240.9" y1="359.18" x2="243.9" y2="359.18" stroke="#222" stroke-width="0.9" />
<text x="245.5" y="359.18" font-family='"Liberation Sans", sans-serif' font-size="4.3" text-anchor="start" fill="#111" dominant-baseline="central" >0.1359</text>
<line x1="240.9" y1="367.49" x2="243.9" y2="367.49" stroke="#222" stroke-width="0.9" />
<text x="245.5" y="367.49" font-family='"Liberation Sans", sans-serif' font-size="4.3" text-anchor="start" fill="#111" dominant-baseline="central" >0.1547</text>
<line x1="240.9" y1="375.8" x2="243.9" y2="375.8" stroke="#222" stroke-width="0.9" />
<text x="245.5" y="375.8" font-family='"Liberation Sans", sans-serif' font-size="4.3" text-anchor="start" fill="#111" dominant-baseline="central" >0.1735</text>
<text x="224.5" y="392.7" font-family='"Liberation Serif", serif' font-size="12.4" fill="#111" stroke="#111" stroke-width="0.2" textLength="41.5" lengthAdjust="spacingAndGlyphs">R<tspan font-size="6.6" dy="-3.6">2</tspan><tspan dy="3.6"> = 0.93</tspan></text>
<text x="257.8" y="445.6" font-family='"Liberation Serif", serif' font-size="12.2" fill="#111" stroke="#111" stroke-width="0.2" textLength="35.4" lengthAdjust="spacingAndGlyphs">Batch 5</text>
<line x1="366.2" y1="293.1" x2="533" y2="293.1" stroke="#4a4a4a" stroke-width="1.1" />
<line x1="532.5" y1="293.1" x2="532.5" y2="446.4" stroke="#111" stroke-width="1.0" />
<line x1="368.4" y1="293.1" x2="368.4" y2="446.6" stroke="#111" stroke-width="1.3" />
<line x1="366.2" y1="444.4" x2="532.5" y2="444.4" stroke="#111" stroke-width="1.3" />
<text x="361.9" y="444.6" font-family='"Liberation Sans", sans-serif' font-size="6.5" text-anchor="end" fill="#1a1a1a" dominant-baseline="central" stroke="#1a1a1a" stroke-width="0.12" textLength="3.72" lengthAdjust="spacingAndGlyphs">0</text>
<line x1="368.4" y1="441.37" x2="370" y2="441.37" stroke="#111" stroke-width="0.9" />
<line x1="368.4" y1="438.35" x2="370" y2="438.35" stroke="#111" stroke-width="0.9" />
<line x1="368.4" y1="435.32" x2="370" y2="435.32" stroke="#111" stroke-width="0.9" />
<line x1="368.4" y1="432.3" x2="370" y2="432.3" stroke="#111" stroke-width="0.9" />
<line x1="366.2" y1="429.27" x2="370.6" y2="429.27" stroke="#111" stroke-width="1.0" />
<text x="361.9" y="429.47" font-family='"Liberation Sans", sans-serif' font-size="6.5" text-anchor="end" fill="#1a1a1a" dominant-baseline="central" stroke="#1a1a1a" stroke-width="0.12" textLength="13.03" lengthAdjust="spacingAndGlyphs">0.02</text>
<line x1="368.4" y1="426.24" x2="370" y2="426.24" stroke="#111" stroke-width="0.9" />
<line x1="368.4" y1="423.22" x2="370" y2="423.22" stroke="#111" stroke-width="0.9" />
<line x1="368.4" y1="420.19" x2="370" y2="420.19" stroke="#111" stroke-width="0.9" />
<line x1="368.4" y1="417.17" x2="370" y2="417.17" stroke="#111" stroke-width="0.9" />
<line x1="366.2" y1="414.14" x2="370.6" y2="414.14" stroke="#111" stroke-width="1.0" />
<text x="361.9" y="414.34" font-family='"Liberation Sans", sans-serif' font-size="6.5" text-anchor="end" fill="#1a1a1a" dominant-baseline="central" stroke="#1a1a1a" stroke-width="0.12" textLength="13.03" lengthAdjust="spacingAndGlyphs">0.04</text>
<line x1="368.4" y1="411.11" x2="370" y2="411.11" stroke="#111" stroke-width="0.9" />
<line x1="368.4" y1="408.09" x2="370" y2="408.09" stroke="#111" stroke-width="0.9" />
<line x1="368.4" y1="405.06" x2="370" y2="405.06" stroke="#111" stroke-width="0.9" />
<line x1="368.4" y1="402.04" x2="370" y2="402.04" stroke="#111" stroke-width="0.9" />
<line x1="366.2" y1="399.01" x2="370.6" y2="399.01" stroke="#111" stroke-width="1.0" />
<text x="361.9" y="399.21" font-family='"Liberation Sans", sans-serif' font-size="6.5" text-anchor="end" fill="#1a1a1a" dominant-baseline="central" stroke="#1a1a1a" stroke-width="0.12" textLength="13.03" lengthAdjust="spacingAndGlyphs">0.06</text>
<line x1="368.4" y1="395.98" x2="370" y2="395.98" stroke="#111" stroke-width="0.9" />
<line x1="368.4" y1="392.96" x2="370" y2="392.96" stroke="#111" stroke-width="0.9" />
<line x1="368.4" y1="389.93" x2="370" y2="389.93" stroke="#111" stroke-width="0.9" />
<line x1="368.4" y1="386.91" x2="370" y2="386.91" stroke="#111" stroke-width="0.9" />
<line x1="366.2" y1="383.88" x2="370.6" y2="383.88" stroke="#111" stroke-width="1.0" />
<text x="361.9" y="384.08" font-family='"Liberation Sans", sans-serif' font-size="6.5" text-anchor="end" fill="#1a1a1a" dominant-baseline="central" stroke="#1a1a1a" stroke-width="0.12" textLength="13.03" lengthAdjust="spacingAndGlyphs">0.08</text>
<line x1="368.4" y1="380.85" x2="370" y2="380.85" stroke="#111" stroke-width="0.9" />
<line x1="368.4" y1="377.83" x2="370" y2="377.83" stroke="#111" stroke-width="0.9" />
<line x1="368.4" y1="374.8" x2="370" y2="374.8" stroke="#111" stroke-width="0.9" />
<line x1="368.4" y1="371.78" x2="370" y2="371.78" stroke="#111" stroke-width="0.9" />
<line x1="366.2" y1="368.75" x2="370.6" y2="368.75" stroke="#111" stroke-width="1.0" />
<text x="361.9" y="368.95" font-family='"Liberation Sans", sans-serif' font-size="6.5" text-anchor="end" fill="#1a1a1a" dominant-baseline="central" stroke="#1a1a1a" stroke-width="0.12" textLength="9.31" lengthAdjust="spacingAndGlyphs">0.1</text>
<line x1="368.4" y1="365.72" x2="370" y2="365.72" stroke="#111" stroke-width="0.9" />
<line x1="368.4" y1="362.7" x2="370" y2="362.7" stroke="#111" stroke-width="0.9" />
<line x1="368.4" y1="359.67" x2="370" y2="359.67" stroke="#111" stroke-width="0.9" />
<line x1="368.4" y1="356.65" x2="370" y2="356.65" stroke="#111" stroke-width="0.9" />
<line x1="366.2" y1="353.62" x2="370.6" y2="353.62" stroke="#111" stroke-width="1.0" />
<text x="361.9" y="353.82" font-family='"Liberation Sans", sans-serif' font-size="6.5" text-anchor="end" fill="#1a1a1a" dominant-baseline="central" stroke="#1a1a1a" stroke-width="0.12" textLength="13.03" lengthAdjust="spacingAndGlyphs">0.12</text>
<line x1="368.4" y1="350.59" x2="370" y2="350.59" stroke="#111" stroke-width="0.9" />
<line x1="368.4" y1="347.57" x2="370" y2="347.57" stroke="#111" stroke-width="0.9" />
<line x1="368.4" y1="344.54" x2="370" y2="344.54" stroke="#111" stroke-width="0.9" />
<line x1="368.4" y1="341.52" x2="370" y2="341.52" stroke="#111" stroke-width="0.9" />
<line x1="366.2" y1="338.49" x2="370.6" y2="338.49" stroke="#111" stroke-width="1.0" />
<text x="361.9" y="338.69" font-family='"Liberation Sans", sans-serif' font-size="6.5" text-anchor="end" fill="#1a1a1a" dominant-baseline="central" stroke="#1a1a1a" stroke-width="0.12" textLength="13.03" lengthAdjust="spacingAndGlyphs">0.14</text>
<line x1="368.4" y1="335.46" x2="370" y2="335.46" stroke="#111" stroke-width="0.9" />
<line x1="368.4" y1="332.44" x2="370" y2="332.44" stroke="#111" stroke-width="0.9" />
<line x1="368.4" y1="329.41" x2="370" y2="329.41" stroke="#111" stroke-width="0.9" />
<line x1="368.4" y1="326.39" x2="370" y2="326.39" stroke="#111" stroke-width="0.9" />
<line x1="366.2" y1="323.36" x2="370.6" y2="323.36" stroke="#111" stroke-width="1.0" />
<text x="361.9" y="323.56" font-family='"Liberation Sans", sans-serif' font-size="6.5" text-anchor="end" fill="#1a1a1a" dominant-baseline="central" stroke="#1a1a1a" stroke-width="0.12" textLength="13.03" lengthAdjust="spacingAndGlyphs">0.16</text>
<line x1="368.4" y1="320.33" x2="370" y2="320.33" stroke="#111" stroke-width="0.9" />
<line x1="368.4" y1="317.31" x2="370" y2="317.31" stroke="#111" stroke-width="0.9" />
<line x1="368.4" y1="314.28" x2="370" y2="314.28" stroke="#111" stroke-width="0.9" />
<line x1="368.4" y1="311.26" x2="370" y2="311.26" stroke="#111" stroke-width="0.9" />
<line x1="366.2" y1="308.23" x2="370.6" y2="308.23" stroke="#111" stroke-width="1.0" />
<text x="361.9" y="308.43" font-family='"Liberation Sans", sans-serif' font-size="6.5" text-anchor="end" fill="#1a1a1a" dominant-baseline="central" stroke="#1a1a1a" stroke-width="0.12" textLength="13.03" lengthAdjust="spacingAndGlyphs">0.18</text>
<line x1="368.4" y1="305.2" x2="370" y2="305.2" stroke="#111" stroke-width="0.9" />
<line x1="368.4" y1="302.18" x2="370" y2="302.18" stroke="#111" stroke-width="0.9" />
<line x1="368.4" y1="299.15" x2="370" y2="299.15" stroke="#111" stroke-width="0.9" />
<line x1="368.4" y1="296.13" x2="370" y2="296.13" stroke="#111" stroke-width="0.9" />
<text x="361.9" y="293.3" font-family='"Liberation Sans", sans-serif' font-size="6.5" text-anchor="end" fill="#1a1a1a" dominant-baseline="central" stroke="#1a1a1a" stroke-width="0.12" textLength="9.31" lengthAdjust="spacingAndGlyphs">0.2</text>
<text x="368.4" y="455.6" font-family='"Liberation Sans", sans-serif' font-size="6.5" text-anchor="middle" fill="#1a1a1a" stroke="#1a1a1a" stroke-width="0.12" textLength="3.72" lengthAdjust="spacingAndGlyphs">0</text>
<line x1="376.6" y1="444.4" x2="376.6" y2="442.8" stroke="#111" stroke-width="0.9" />
<line x1="384.81" y1="444.4" x2="384.81" y2="442.8" stroke="#111" stroke-width="0.9" />
<line x1="393.01" y1="444.4" x2="393.01" y2="442.8" stroke="#111" stroke-width="0.9" />
<line x1="401.22" y1="444.4" x2="401.22" y2="442.8" stroke="#111" stroke-width="0.9" />
<line x1="409.42" y1="442.2" x2="409.42" y2="446.6" stroke="#111" stroke-width="1.0" />
<text x="409.42" y="455.6" font-family='"Liberation Sans", sans-serif' font-size="6.5" text-anchor="middle" fill="#1a1a1a" stroke="#1a1a1a" stroke-width="0.12" textLength="13.03" lengthAdjust="spacingAndGlyphs">0.05</text>
<line x1="417.63" y1="444.4" x2="417.63" y2="442.8" stroke="#111" stroke-width="0.9" />
<line x1="425.83" y1="444.4" x2="425.83" y2="442.8" stroke="#111" stroke-width="0.9" />
<line x1="434.04" y1="444.4" x2="434.04" y2="442.8" stroke="#111" stroke-width="0.9" />
<line x1="442.25" y1="444.4" x2="442.25" y2="442.8" stroke="#111" stroke-width="0.9" />
<line x1="450.45" y1="442.2" x2="450.45" y2="446.6" stroke="#111" stroke-width="1.0" />
<text x="450.45" y="455.6" font-family='"Liberation Sans", sans-serif' font-size="6.5" text-anchor="middle" fill="#1a1a1a" stroke="#1a1a1a" stroke-width="0.12" textLength="9.31" lengthAdjust="spacingAndGlyphs">0.1</text>
<line x1="458.65" y1="444.4" x2="458.65" y2="442.8" stroke="#111" stroke-width="0.9" />
<line x1="466.86" y1="444.4" x2="466.86" y2="442.8" stroke="#111" stroke-width="0.9" />
<line x1="475.06" y1="444.4" x2="475.06" y2="442.8" stroke="#111" stroke-width="0.9" />
<line x1="483.27" y1="444.4" x2="483.27" y2="442.8" stroke="#111" stroke-width="0.9" />
<line x1="491.48" y1="442.2" x2="491.48" y2="446.6" stroke="#111" stroke-width="1.0" />
<text x="491.48" y="455.6" font-family='"Liberation Sans", sans-serif' font-size="6.5" text-anchor="middle" fill="#1a1a1a" stroke="#1a1a1a" stroke-width="0.12" textLength="13.03" lengthAdjust="spacingAndGlyphs">0.15</text>
<line x1="499.68" y1="444.4" x2="499.68" y2="442.8" stroke="#111" stroke-width="0.9" />
<line x1="507.88" y1="444.4" x2="507.88" y2="442.8" stroke="#111" stroke-width="0.9" />
<line x1="516.09" y1="444.4" x2="516.09" y2="442.8" stroke="#111" stroke-width="0.9" />
<line x1="524.3" y1="444.4" x2="524.3" y2="442.8" stroke="#111" stroke-width="0.9" />
<text x="532.5" y="455.6" font-family='"Liberation Sans", sans-serif' font-size="6.5" text-anchor="middle" fill="#1a1a1a" stroke="#1a1a1a" stroke-width="0.12" textLength="9.31" lengthAdjust="spacingAndGlyphs">0.2</text>
<line x1="368.4" y1="444.4" x2="499.68" y2="323.36" stroke="#000" stroke-width="1.7" stroke-linecap="butt"/>
<circle cx="381.2" cy="420.3" r="2.5" fill="none" stroke="#000" stroke-width="1.8"/>
<circle cx="382.1" cy="420.3" r="2.5" fill="none" stroke="#000" stroke-width="1.8"/>
<circle cx="412.7" cy="405.4" r="2.5" fill="none" stroke="#000" stroke-width="1.8"/>
<circle cx="387.1" cy="434.5" r="2.5" fill="none" stroke="#000" stroke-width="1.8"/>
<circle cx="383" cy="440.6" r="2.5" fill="none" stroke="#000" stroke-width="1.8"/>
<line x1="381.4" y1="430.1" x2="412.7" y2="407.2" stroke="#f00000" stroke-width="1.2" />
<text x="413.5" y="466.3" font-family='"Liberation Sans", sans-serif' font-size="6.5" fill="#1a1a1a" stroke="#1a1a1a" stroke-width="0.1" textLength="73.5" lengthAdjust="spacingAndGlyphs">F<tspan font-size="4.03" dy="1.4">LL</tspan><tspan dy="-1.4"> from Back Calculation</tspan></text>
<text x="344.9" y="369.2" font-family='"Liberation Sans", sans-serif' font-size="6.5" fill="#1a1a1a" stroke="#1a1a1a" stroke-width="0.1" text-anchor="middle" transform="rotate(-90 344.9 369.2)" textLength="31.9" lengthAdjust="spacingAndGlyphs">F<tspan font-size="4.03" dy="1.4">LL</tspan><tspan dy="-1.4"> from Eq</tspan></text>
<text x="383.1" y="311.7" font-family='"Liberation Serif", serif' font-size="9.6" fill="#111" textLength="33" lengthAdjust="spacingAndGlyphs">R<tspan font-size="5.3" dy="-3.0">2</tspan><tspan dy="3.0"> = 0.45</tspan></text>
<text x="383.1" y="323.7" font-family='"Liberation Serif", serif' font-size="9.6" fill="#111" textLength="47" lengthAdjust="spacingAndGlyphs">LCCC = 0.71</text>
<line x1="25.5" y1="563.2" x2="116" y2="522.2" stroke="#a8a8a8" stroke-width="0.7" />
<line x1="116" y1="522.2" x2="205.8" y2="567.4" stroke="#a8a8a8" stroke-width="0.7" />
<line x1="116" y1="522.2" x2="115.2" y2="612.3" stroke="#a8a8a8" stroke-width="0.7" />
<line x1="205.8" y1="567.4" x2="193.6" y2="661.3" stroke="#b8b8b8" stroke-width="0.7" />
<line x1="33.7" y1="658.5" x2="115.2" y2="612.3" stroke="#a8a8a8" stroke-width="0.7" />
<line x1="193.6" y1="661.3" x2="115.2" y2="612.3" stroke="#a8a8a8" stroke-width="0.7" />
<g shape-rendering="geometricPrecision">
<polygon points="117.49,695.53 120.7,698.8 121.59,697.31" fill="#740082"/>
<polygon points="114.3,692.28 119.41,697.49 121.06,698.21 122.48,695.82" fill="#7c008d"/>
<polygon points="111.13,689.06 116.21,694.23 121.94,696.72 123.37,694.33" fill="#840098"/>
<polygon points="107.98,685.86 113.03,690.99 122.83,695.23 124.26,692.84" fill="#8700a6"/>
<polygon points="104.86,682.68 109.87,687.78 123.73,693.74 125.15,691.35" fill="#8900b5"/>
<polygon points="101.76,679.52 106.73,684.58 124.62,692.25 126.05,689.86" fill="#8b00c4"/>
<polygon points="98.67,676.39 103.62,681.41 125.51,690.75 126.94,688.36" fill="#8b00d3"/>
<polygon points="95.61,673.27 100.52,678.27 126.4,689.26 127.83,686.87" fill="#8400e2"/>
<polygon points="92.57,670.18 97.45,675.14 127.3,687.76 128.73,685.37" fill="#7e00f1"/>
<polygon points="89.56,667.11 94.4,672.03 128.19,686.27 129.62,683.87" fill="#7700ff"/>
<polygon points="86.56,664.06 91.36,668.95 129.09,684.77 130.52,682.37" fill="#5a00ff"/>
<polygon points="83.58,661.03 88.35,665.88 129.98,683.27 131.42,680.87" fill="#3d00ff"/>
<polygon points="80.62,658.01 85.36,662.84 130.88,681.77 132.31,679.37" fill="#2000ff"/>
<polygon points="77.68,655.02 82.39,659.82 131.78,680.27 133.21,677.87" fill="#0701ff"/>
<polygon points="74.76,652.05 79.44,656.82 132.67,678.77 134.11,676.36" fill="#030aff"/>
<polygon points="71.87,649.1 76.51,653.83 133.57,677.26 135.01,674.86" fill="#0015ff"/>
<polygon points="68.99,646.17 73.6,650.87 134.47,675.76 135.91,673.35" fill="#002eff"/>
<polygon points="66.12,643.26 70.71,647.93 135.37,674.25 136.81,671.84" fill="#0048ff"/>
<polygon points="63.28,640.37 67.84,645.01 136.27,672.75 137.72,670.33" fill="#0061ff"/>
<polygon points="60.46,637.5 64.99,642.1 137.17,671.24 138.62,668.82" fill="#007aff"/>
<polygon points="58.3,635.3 62.15,639.22 138.08,669.73 139.52,667.31 58.49,634.97" fill="#0093ff"/>
<polygon points="58.3,635.3 59.34,636.35 138.98,668.22 140.43,665.8 59.29,633.56" fill="#00adff"/>
<polygon points="139.88,666.7 141.33,664.28 60.1,632.15 58.81,634.41" fill="#00c6ff"/>
<polygon points="140.79,665.19 142.24,662.77 60.9,630.74 59.61,633" fill="#00dfff"/>
<polygon points="141.69,663.68 143.14,661.25 61.71,629.33 60.42,631.59" fill="#00f8ff"/>
<polygon points="142.6,662.16 144.05,659.73 62.52,627.91 61.23,630.18" fill="#00fcf6"/>
<polygon points="143.51,660.64 144.96,658.21 63.33,626.5 62.03,628.76" fill="#01ffd8"/>
<polygon points="144.42,659.12 145.87,656.69 64.13,625.08 62.84,627.35" fill="#05ff6d"/>
<polygon points="145.32,657.61 146.78,655.17 64.94,623.66 63.65,625.93" fill="#09ff08"/>
<polygon points="146.23,656.08 147.69,653.65 65.75,622.24 64.46,624.51" fill="#18ff07"/>
<polygon points="147.14,654.56 148.6,652.12 66.56,620.82 65.27,623.1" fill="#27ff07"/>
<polygon points="148.05,653.04 149.51,650.6 67.38,619.4 66.08,621.68" fill="#36ff07"/>
<polygon points="148.96,651.51 150.42,649.07 68.19,617.98 66.89,620.26" fill="#45ff06"/>
<polygon points="149.88,649.99 151.34,647.54 69,616.56 67.7,618.83" fill="#53ff06"/>
<polygon points="150.79,648.46 152.25,646.01 69.81,615.13 68.51,617.41" fill="#62ff05"/>
<polygon points="151.7,646.93 153.17,644.48 70.63,613.71 69.32,615.99" fill="#71ff05"/>
<polygon points="152.62,645.4 154.08,642.95 71.44,612.28 70.14,614.56" fill="#80ff04"/>
<polygon points="153.53,643.87 155,641.42 72.26,610.85 70.95,613.14" fill="#8fff04"/>
<polygon points="154.45,642.34 155.92,639.89 73.07,609.43 71.77,611.71" fill="#9eff03"/>
<polygon points="155.37,640.81 156.83,638.35 73.89,608 72.58,610.28" fill="#adff03"/>
<polygon points="156.28,639.27 157.75,636.81 74.7,606.57 73.4,608.85" fill="#bcff02"/>
<polygon points="157.2,637.74 158.67,635.27 75.52,605.13 74.21,607.42" fill="#cbff02"/>
<polygon points="158.12,636.2 159.59,633.74 76.34,603.7 75.03,605.99" fill="#daff01"/>
<polygon points="159.04,634.66 160.51,632.19 77.16,602.27 75.85,604.56" fill="#e9ff01"/>
<polygon points="159.96,633.12 161.43,630.65 77.98,600.83 76.67,603.13" fill="#f8ff00"/>
<polygon points="160.88,631.58 162.36,629.11 78.8,599.39 77.49,601.69" fill="#fff800"/>
<polygon points="161.8,630.04 163.28,627.57 79.62,597.96 78.3,600.26" fill="#ffea00"/>
<polygon points="162.73,628.49 164.2,626.02 80.44,596.52 79.12,598.82" fill="#ffdc00"/>
<polygon points="163.65,626.95 165.13,624.47 81.26,595.08 79.95,597.38" fill="#ffce00"/>
<polygon points="164.57,625.4 166.05,622.92 82.08,593.64 80.77,595.94" fill="#ffbf00"/>
<polygon points="165.5,623.85 166.98,621.38 82.91,592.2 81.59,594.5" fill="#ffb100"/>
<polygon points="166.42,622.31 167.91,619.82 83.73,590.75 82.41,593.06" fill="#ffa300"/>
<polygon points="167.35,620.76 168.83,618.27 84.55,589.31 83.23,591.62" fill="#ff9500"/>
<polygon points="168.28,619.2 169.76,616.72 85.38,587.87 84.06,590.18" fill="#ff8700"/>
<polygon points="169.21,617.65 170.69,615.16 86.2,586.42 84.88,588.73" fill="#ff7400"/>
<polygon points="170.13,616.1 171.62,613.61 87.03,584.97 85.71,587.29" fill="#ff5c00"/>
<polygon points="171.06,614.54 172.55,612.05 87.86,583.52 86.53,585.84" fill="#ff4300"/>
<polygon points="171.99,612.99 173.48,610.49 88.68,582.07 87.36,584.39" fill="#ff2b00"/>
<polygon points="172.93,611.43 174.42,608.93 89.51,580.62 88.19,582.94" fill="#ff1300"/>
<polygon points="173.86,609.87 175.35,607.37 90.34,579.17 89.02,581.49" fill="#ff0800"/>
<polygon points="174.79,608.31 176.28,605.81 91.17,577.72 89.84,580.04" fill="#fe0700"/>
<polygon points="175.72,606.75 177.22,604.25 92,576.27 90.67,578.59" fill="#fe0600"/>
<polygon points="176.66,605.18 178.15,602.68 92.83,574.81 91.5,577.14" fill="#fd0600"/>
<polygon points="177.59,603.62 179.09,601.11 93.66,573.35 92.33,575.68" fill="#fd0500"/>
<polygon points="178.53,602.05 180.03,599.55 94.49,571.9 93.16,574.23" fill="#fc0500"/>
<polygon points="179.46,600.49 180.96,597.98 95.33,570.44 93.99,572.77" fill="#fb0400"/>
<polygon points="180.4,598.92 181.9,596.41 96.16,568.98 94.83,571.31" fill="#fb0300"/>
<polygon points="181.34,597.35 182.84,594.84 96.99,567.52 95.66,569.86" fill="#fa0300"/>
<polygon points="182.28,595.78 183.78,593.26 97.83,566.06 96.49,568.4" fill="#fa0200"/>
<polygon points="183.22,594.21 184,592.9 181.28,590.6 98.66,564.59 97.33,566.93" fill="#f90200"/>
<polygon points="183.4,592.39 177.77,587.64 99.5,563.13 98.16,565.47" fill="#f90100"/>
<polygon points="179.87,589.42 174.28,584.7 100.33,561.67 99,564.01" fill="#f80000"/>
<polygon points="176.37,586.46 170.81,581.77 101.17,560.2 99.83,562.54" fill="#f50000"/>
<polygon points="172.89,583.52 167.37,578.87 102.01,558.73 100.67,561.08" fill="#ee0000"/>
<polygon points="169.44,580.61 163.96,575.99 102.85,557.26 101.51,559.61" fill="#e70000"/>
<polygon points="166.01,577.72 160.57,573.13 103.69,555.79 102.34,558.14" fill="#e00000"/>
<polygon points="162.6,574.84 157.2,570.29 104.53,554.32 103.18,556.68" fill="#d90000"/>
<polygon points="159.22,571.99 153.86,567.47 105.37,552.85 104.02,555.21" fill="#d20000"/>
<polygon points="155.86,569.16 150.54,564.67 106.21,551.38 104.86,553.73" fill="#ca0000"/>
<polygon points="152.53,566.35 147.24,561.89 107.05,549.9 105.7,552.26" fill="#c40000"/>
<polygon points="149.22,563.55 143.97,559.12 107.89,548.43 106.54,550.79" fill="#bd0000"/>
<polygon points="145.93,560.78 140.72,556.38 108.73,546.95 107.39,549.31" fill="#b60000"/>
<polygon points="142.67,558.02 137.49,553.66 109.58,545.48 108.23,547.84" fill="#ae0000"/>
<polygon points="139.43,555.29 134.28,550.95 110.42,544 109.07,546.36" fill="#a80000"/>
<polygon points="136.21,552.57 131.1,548.26 111.27,542.52 109.91,544.88" fill="#a10000"/>
<polygon points="133.01,549.87 127.94,545.59 112.11,541.04 110.76,543.4" fill="#9a0000"/>
<polygon points="129.83,547.19 124.8,542.94 112.96,539.55 111.6,541.92" fill="#930000"/>
<polygon points="126.68,544.53 121.68,540.31 113.8,538.07 112.45,540.44" fill="#8c0000"/>
<polygon points="123.55,541.89 118.58,537.7 114.65,536.59 113.3,538.96" fill="#850000"/>
<polygon points="120.43,539.26 115.5,535.1 114.14,537.48" fill="#7d0000"/>
</g>
<line x1="117.09" y1="695.12" x2="121.7" y2="697.13" stroke="#000" stroke-width="0.45" stroke-opacity="0.10"/>
<line x1="113.5" y1="691.48" x2="122.7" y2="695.45" stroke="#000" stroke-width="0.45" stroke-opacity="0.10"/>
<line x1="109.95" y1="687.86" x2="123.7" y2="693.78" stroke="#000" stroke-width="0.45" stroke-opacity="0.10"/>
<line x1="106.42" y1="684.27" x2="124.71" y2="692.1" stroke="#000" stroke-width="0.45" stroke-opacity="0.10"/>
<line x1="102.92" y1="680.7" x2="125.71" y2="690.42" stroke="#000" stroke-width="0.45" stroke-opacity="0.10"/>
<line x1="99.44" y1="677.17" x2="126.72" y2="688.74" stroke="#000" stroke-width="0.45" stroke-opacity="0.10"/>
<line x1="96" y1="673.66" x2="127.72" y2="687.05" stroke="#000" stroke-width="0.45" stroke-opacity="0.10"/>
<line x1="92.57" y1="670.18" x2="128.73" y2="685.37" stroke="#000" stroke-width="0.5" stroke-opacity="0.30"/>
<line x1="89.18" y1="666.72" x2="129.74" y2="683.68" stroke="#000" stroke-width="0.45" stroke-opacity="0.10"/>
<line x1="85.81" y1="663.3" x2="130.74" y2="682" stroke="#000" stroke-width="0.45" stroke-opacity="0.10"/>
<line x1="82.47" y1="659.89" x2="131.75" y2="680.31" stroke="#000" stroke-width="0.45" stroke-opacity="0.10"/>
<line x1="79.15" y1="656.52" x2="132.76" y2="678.62" stroke="#000" stroke-width="0.45" stroke-opacity="0.10"/>
<line x1="75.86" y1="653.17" x2="133.77" y2="676.93" stroke="#000" stroke-width="0.45" stroke-opacity="0.10"/>
<line x1="72.59" y1="649.84" x2="134.79" y2="675.23" stroke="#000" stroke-width="0.45" stroke-opacity="0.10"/>
<line x1="69.34" y1="646.54" x2="135.8" y2="673.54" stroke="#000" stroke-width="0.45" stroke-opacity="0.10"/>
<line x1="66.12" y1="643.26" x2="136.81" y2="671.84" stroke="#000" stroke-width="0.5" stroke-opacity="0.30"/>
<line x1="62.93" y1="640.01" x2="137.83" y2="670.14" stroke="#000" stroke-width="0.45" stroke-opacity="0.10"/>
<line x1="59.76" y1="636.78" x2="138.84" y2="668.44" stroke="#000" stroke-width="0.45" stroke-opacity="0.10"/>
<line x1="139.86" y1="666.74" x2="58.79" y2="634.45" stroke="#000" stroke-width="0.45" stroke-opacity="0.10"/>
<line x1="140.88" y1="665.04" x2="59.69" y2="632.86" stroke="#000" stroke-width="0.45" stroke-opacity="0.10"/>
<line x1="141.9" y1="663.34" x2="60.6" y2="631.27" stroke="#000" stroke-width="0.45" stroke-opacity="0.10"/>
<line x1="142.92" y1="661.63" x2="61.51" y2="629.68" stroke="#000" stroke-width="0.45" stroke-opacity="0.10"/>
<line x1="143.94" y1="659.92" x2="62.42" y2="628.09" stroke="#000" stroke-width="0.45" stroke-opacity="0.10"/>
<line x1="144.96" y1="658.21" x2="63.33" y2="626.5" stroke="#000" stroke-width="0.5" stroke-opacity="0.30"/>
<line x1="145.98" y1="656.5" x2="64.24" y2="624.9" stroke="#000" stroke-width="0.45" stroke-opacity="0.10"/>
<line x1="147.01" y1="654.79" x2="65.15" y2="623.31" stroke="#000" stroke-width="0.45" stroke-opacity="0.10"/>
<line x1="148.03" y1="653.08" x2="66.06" y2="621.71" stroke="#000" stroke-width="0.45" stroke-opacity="0.10"/>
<line x1="149.06" y1="651.36" x2="66.97" y2="620.11" stroke="#000" stroke-width="0.45" stroke-opacity="0.10"/>
<line x1="150.08" y1="649.64" x2="67.88" y2="618.51" stroke="#000" stroke-width="0.45" stroke-opacity="0.10"/>
<line x1="151.11" y1="647.93" x2="68.8" y2="616.91" stroke="#000" stroke-width="0.45" stroke-opacity="0.10"/>
<line x1="152.14" y1="646.21" x2="69.71" y2="615.31" stroke="#000" stroke-width="0.45" stroke-opacity="0.10"/>
<line x1="153.17" y1="644.48" x2="70.63" y2="613.71" stroke="#000" stroke-width="0.5" stroke-opacity="0.30"/>
<line x1="154.2" y1="642.76" x2="71.54" y2="612.1" stroke="#000" stroke-width="0.45" stroke-opacity="0.10"/>
<line x1="155.23" y1="641.04" x2="72.46" y2="610.5" stroke="#000" stroke-width="0.45" stroke-opacity="0.10"/>
<line x1="156.26" y1="639.31" x2="73.38" y2="608.89" stroke="#000" stroke-width="0.45" stroke-opacity="0.10"/>
<line x1="157.29" y1="637.58" x2="74.3" y2="607.28" stroke="#000" stroke-width="0.45" stroke-opacity="0.10"/>
<line x1="158.33" y1="635.85" x2="75.21" y2="605.67" stroke="#000" stroke-width="0.45" stroke-opacity="0.10"/>
<line x1="159.36" y1="634.12" x2="76.13" y2="604.06" stroke="#000" stroke-width="0.45" stroke-opacity="0.10"/>
<line x1="160.4" y1="632.39" x2="77.06" y2="602.45" stroke="#000" stroke-width="0.45" stroke-opacity="0.10"/>
<line x1="161.43" y1="630.65" x2="77.98" y2="600.83" stroke="#000" stroke-width="0.5" stroke-opacity="0.30"/>
<line x1="162.47" y1="628.92" x2="78.9" y2="599.22" stroke="#000" stroke-width="0.45" stroke-opacity="0.10"/>
<line x1="163.51" y1="627.18" x2="79.82" y2="597.6" stroke="#000" stroke-width="0.45" stroke-opacity="0.10"/>
<line x1="164.55" y1="625.44" x2="80.75" y2="595.98" stroke="#000" stroke-width="0.45" stroke-opacity="0.10"/>
<line x1="165.59" y1="623.7" x2="81.67" y2="594.36" stroke="#000" stroke-width="0.45" stroke-opacity="0.10"/>
<line x1="166.63" y1="621.96" x2="82.6" y2="592.74" stroke="#000" stroke-width="0.45" stroke-opacity="0.10"/>
<line x1="167.67" y1="620.21" x2="83.52" y2="591.12" stroke="#000" stroke-width="0.45" stroke-opacity="0.10"/>
<line x1="168.72" y1="618.47" x2="84.45" y2="589.49" stroke="#000" stroke-width="0.45" stroke-opacity="0.10"/>
<line x1="169.76" y1="616.72" x2="85.38" y2="587.87" stroke="#000" stroke-width="0.5" stroke-opacity="0.30"/>
<line x1="170.81" y1="614.97" x2="86.31" y2="586.24" stroke="#000" stroke-width="0.45" stroke-opacity="0.10"/>
<line x1="171.85" y1="613.22" x2="87.24" y2="584.61" stroke="#000" stroke-width="0.45" stroke-opacity="0.10"/>
<line x1="172.9" y1="611.47" x2="88.17" y2="582.98" stroke="#000" stroke-width="0.45" stroke-opacity="0.10"/>
<line x1="173.95" y1="609.71" x2="89.1" y2="581.35" stroke="#000" stroke-width="0.45" stroke-opacity="0.10"/>
<line x1="175" y1="607.96" x2="90.03" y2="579.72" stroke="#000" stroke-width="0.45" stroke-opacity="0.10"/>
<line x1="176.05" y1="606.2" x2="90.96" y2="578.08" stroke="#000" stroke-width="0.45" stroke-opacity="0.10"/>
<line x1="177.1" y1="604.44" x2="91.9" y2="576.45" stroke="#000" stroke-width="0.45" stroke-opacity="0.10"/>
<line x1="178.15" y1="602.68" x2="92.83" y2="574.81" stroke="#000" stroke-width="0.5" stroke-opacity="0.30"/>
<line x1="179.21" y1="600.92" x2="93.77" y2="573.17" stroke="#000" stroke-width="0.45" stroke-opacity="0.10"/>
<line x1="180.26" y1="599.15" x2="94.7" y2="571.53" stroke="#000" stroke-width="0.45" stroke-opacity="0.10"/>
<line x1="181.32" y1="597.39" x2="95.64" y2="569.89" stroke="#000" stroke-width="0.45" stroke-opacity="0.10"/>
<line x1="182.37" y1="595.62" x2="96.58" y2="568.25" stroke="#000" stroke-width="0.45" stroke-opacity="0.10"/>
<line x1="183.43" y1="593.85" x2="97.51" y2="566.61" stroke="#000" stroke-width="0.45" stroke-opacity="0.10"/>
<line x1="182.16" y1="591.35" x2="98.45" y2="564.96" stroke="#000" stroke-width="0.45" stroke-opacity="0.10"/>
<line x1="178.2" y1="588.01" x2="99.39" y2="563.31" stroke="#000" stroke-width="0.45" stroke-opacity="0.10"/>
<line x1="174.28" y1="584.7" x2="100.33" y2="561.67" stroke="#000" stroke-width="0.5" stroke-opacity="0.30"/>
<line x1="170.38" y1="581.41" x2="101.28" y2="560.02" stroke="#000" stroke-width="0.45" stroke-opacity="0.10"/>
<line x1="166.52" y1="578.15" x2="102.22" y2="558.37" stroke="#000" stroke-width="0.45" stroke-opacity="0.10"/>
<line x1="162.69" y1="574.92" x2="103.16" y2="556.71" stroke="#000" stroke-width="0.45" stroke-opacity="0.10"/>
<line x1="158.88" y1="571.71" x2="104.11" y2="555.06" stroke="#000" stroke-width="0.45" stroke-opacity="0.10"/>
<line x1="155.11" y1="568.52" x2="105.05" y2="553.4" stroke="#000" stroke-width="0.45" stroke-opacity="0.10"/>
<line x1="151.37" y1="565.37" x2="106" y2="551.75" stroke="#000" stroke-width="0.45" stroke-opacity="0.10"/>
<line x1="147.65" y1="562.23" x2="106.94" y2="550.09" stroke="#000" stroke-width="0.45" stroke-opacity="0.10"/>
<line x1="143.97" y1="559.12" x2="107.89" y2="548.43" stroke="#000" stroke-width="0.5" stroke-opacity="0.30"/>
<line x1="140.31" y1="556.04" x2="108.84" y2="546.77" stroke="#000" stroke-width="0.45" stroke-opacity="0.10"/>
<line x1="136.69" y1="552.98" x2="109.79" y2="545.11" stroke="#000" stroke-width="0.45" stroke-opacity="0.10"/>
<line x1="133.09" y1="549.94" x2="110.74" y2="543.44" stroke="#000" stroke-width="0.45" stroke-opacity="0.10"/>
<line x1="129.52" y1="546.93" x2="111.69" y2="541.78" stroke="#000" stroke-width="0.45" stroke-opacity="0.10"/>
<line x1="125.97" y1="543.94" x2="112.64" y2="540.11" stroke="#000" stroke-width="0.45" stroke-opacity="0.10"/>
<line x1="122.45" y1="540.97" x2="113.59" y2="538.44" stroke="#000" stroke-width="0.45" stroke-opacity="0.10"/>
<line x1="118.96" y1="538.02" x2="114.55" y2="536.77" stroke="#000" stroke-width="0.45" stroke-opacity="0.10"/>
<circle cx="100.1" cy="575" r="1.45" fill="#000"/>
<circle cx="96.8" cy="577.6" r="1.45" fill="#000"/>
<circle cx="114.3" cy="587.9" r="1.45" fill="#000"/>
<circle cx="92.3" cy="591.8" r="1.45" fill="#000"/>
<circle cx="99.5" cy="591.4" r="1.45" fill="#000"/>
<circle cx="75.3" cy="607.6" r="1.45" fill="#000"/>
<circle cx="79.5" cy="610.5" r="1.45" fill="#000"/>
<circle cx="85.5" cy="611.7" r="1.45" fill="#000"/>
<circle cx="66.3" cy="614.2" r="1.45" fill="#000"/>
<circle cx="68.7" cy="615.9" r="1.45" fill="#000"/>
<circle cx="67" cy="621.8" r="1.45" fill="#000"/>
<circle cx="69.8" cy="623.9" r="1.45" fill="#000"/>
<circle cx="58.3" cy="635.2" r="1.45" fill="#000"/>
<circle cx="99.7" cy="638.2" r="1.45" fill="#000"/>
<circle cx="184.4" cy="588.6" r="1.45" fill="#000"/>
<circle cx="132.1" cy="595.7" r="1.45" fill="#000"/>
<circle cx="133.8" cy="599.5" r="1.45" fill="#000"/>
<line x1="69.8" y1="623.9" x2="72.5" y2="622.3" stroke="#000" stroke-width="0.7" stroke-linecap="round"/>
<ellipse cx="119.6" cy="588.5" rx="0.55" ry="1.15" fill="#200" fill-opacity="0.85" transform="rotate(20 119.6 588.5)"/>
<ellipse cx="140.4" cy="596.6" rx="0.55" ry="1.15" fill="#200" fill-opacity="0.85" transform="rotate(20 140.4 596.6)"/>
<ellipse cx="66.8" cy="628.6" rx="0.55" ry="1.15" fill="#200" fill-opacity="0.85" transform="rotate(20 66.8 628.6)"/>
<line x1="25.5" y1="563.2" x2="33.7" y2="658.5" stroke="#3a3a3a" stroke-width="0.8" />
<line x1="33.7" y1="658.5" x2="113.4" y2="718.6" stroke="#3a3a3a" stroke-width="0.8" />
<line x1="113.4" y1="718.6" x2="193.6" y2="661.3" stroke="#3a3a3a" stroke-width="0.8" />
<line x1="25.5" y1="563.2" x2="23.3" y2="563.9" stroke="#3a3a3a" stroke-width="0.8" />
<text x="21.2" y="565.4" font-family='"Liberation Sans", sans-serif' font-size="5.7" text-anchor="end" fill="#111" dominant-baseline="central" transform="rotate(-27 21.2 565.4)" >0.18</text>
<line x1="26.47" y1="574.5" x2="24.27" y2="575.2" stroke="#3a3a3a" stroke-width="0.8" />
<text x="22.17" y="576.7" font-family='"Liberation Sans", sans-serif' font-size="5.7" text-anchor="end" fill="#111" dominant-baseline="central" transform="rotate(-27 22.17 576.7)" >0.16</text>
<line x1="27.38" y1="585.1" x2="25.18" y2="585.8" stroke="#3a3a3a" stroke-width="0.8" />
<text x="23.08" y="587.3" font-family='"Liberation Sans", sans-serif' font-size="5.7" text-anchor="end" fill="#111" dominant-baseline="central" transform="rotate(-27 23.08 587.3)" >0.14</text>
<line x1="28.25" y1="595.2" x2="26.05" y2="595.9" stroke="#3a3a3a" stroke-width="0.8" />
<text x="23.95" y="597.4" font-family='"Liberation Sans", sans-serif' font-size="5.7" text-anchor="end" fill="#111" dominant-baseline="central" transform="rotate(-27 23.95 597.4)" >0.12</text>
<line x1="29.09" y1="604.9" x2="26.89" y2="605.6" stroke="#3a3a3a" stroke-width="0.8" />
<text x="24.79" y="607.1" font-family='"Liberation Sans", sans-serif' font-size="5.7" text-anchor="end" fill="#111" dominant-baseline="central" transform="rotate(-27 24.79 607.1)" >0.10</text>
<line x1="29.9" y1="614.3" x2="27.7" y2="615" stroke="#3a3a3a" stroke-width="0.8" />
<text x="25.6" y="616.5" font-family='"Liberation Sans", sans-serif' font-size="5.7" text-anchor="end" fill="#111" dominant-baseline="central" transform="rotate(-27 25.6 616.5)" >0.08</text>
<line x1="30.69" y1="623.5" x2="28.49" y2="624.2" stroke="#3a3a3a" stroke-width="0.8" />
<text x="26.39" y="625.7" font-family='"Liberation Sans", sans-serif' font-size="5.7" text-anchor="end" fill="#111" dominant-baseline="central" transform="rotate(-27 26.39 625.7)" >0.06</text>
<line x1="31.47" y1="632.6" x2="29.27" y2="633.3" stroke="#3a3a3a" stroke-width="0.8" />
<text x="27.17" y="634.8" font-family='"Liberation Sans", sans-serif' font-size="5.7" text-anchor="end" fill="#111" dominant-baseline="central" transform="rotate(-27 27.17 634.8)" >0.04</text>
<line x1="32.24" y1="641.5" x2="30.04" y2="642.2" stroke="#3a3a3a" stroke-width="0.8" />
<text x="27.94" y="643.7" font-family='"Liberation Sans", sans-serif' font-size="5.7" text-anchor="end" fill="#111" dominant-baseline="central" transform="rotate(-27 27.94 643.7)" >0.02</text>
<line x1="32.99" y1="650.2" x2="30.79" y2="650.9" stroke="#3a3a3a" stroke-width="0.8" />
<text x="28.69" y="652.4" font-family='"Liberation Sans", sans-serif' font-size="5.7" text-anchor="end" fill="#111" dominant-baseline="central" transform="rotate(-27 28.69 652.4)" >0.00</text>
<line x1="33.7" y1="658.5" x2="31.5" y2="659.2" stroke="#3a3a3a" stroke-width="0.8" />
<text x="29.4" y="660.7" font-family='"Liberation Sans", sans-serif' font-size="5.7" text-anchor="end" fill="#111" dominant-baseline="central" transform="rotate(-27 29.4 660.7)" >-0.02</text>
<line x1="40" y1="663" x2="37.88" y2="664.51" stroke="#3a3a3a" stroke-width="0.8" />
<text x="37.8" y="664.48" font-family='"Liberation Sans", sans-serif' font-size="5.7" text-anchor="end" fill="#111" dominant-baseline="central" transform="rotate(-35 37.8 664.48)" >0</text>
<line x1="55.6" y1="675" x2="53.48" y2="676.51" stroke="#3a3a3a" stroke-width="0.8" />
<text x="53.4" y="676.48" font-family='"Liberation Sans", sans-serif' font-size="5.7" text-anchor="end" fill="#111" dominant-baseline="central" transform="rotate(-35 53.4 676.48)" >20</text>
<line x1="71.6" y1="687" x2="69.48" y2="688.51" stroke="#3a3a3a" stroke-width="0.8" />
<text x="69.4" y="688.48" font-family='"Liberation Sans", sans-serif' font-size="5.7" text-anchor="end" fill="#111" dominant-baseline="central" transform="rotate(-35 69.4 688.48)" >40</text>
<line x1="88" y1="699.4" x2="85.88" y2="700.91" stroke="#3a3a3a" stroke-width="0.8" />
<text x="85.8" y="700.88" font-family='"Liberation Sans", sans-serif' font-size="5.7" text-anchor="end" fill="#111" dominant-baseline="central" transform="rotate(-35 85.8 700.88)" >60</text>
<line x1="105" y1="712.4" x2="102.88" y2="713.91" stroke="#3a3a3a" stroke-width="0.8" />
<text x="102.8" y="713.88" font-family='"Liberation Sans", sans-serif' font-size="5.7" text-anchor="end" fill="#111" dominant-baseline="central" transform="rotate(-35 102.8 713.88)" >80</text>
<line x1="47.8" y1="669" x2="46.66" y2="669.81" stroke="#3a3a3a" stroke-width="0.6400000000000001" />
<line x1="63.6" y1="681" x2="62.46" y2="681.81" stroke="#3a3a3a" stroke-width="0.6400000000000001" />
<line x1="79.8" y1="693.2" x2="78.66" y2="694.01" stroke="#3a3a3a" stroke-width="0.6400000000000001" />
<line x1="96.5" y1="705.9" x2="95.36" y2="706.71" stroke="#3a3a3a" stroke-width="0.6400000000000001" />
<line x1="124.4" y1="710.6" x2="126.48" y2="712.17" stroke="#3a3a3a" stroke-width="0.8" />
<text x="130" y="715" font-family='"Liberation Sans", sans-serif' font-size="5.7" text-anchor="middle" fill="#111" dominant-baseline="central" transform="rotate(37 130 715)" >1.0</text>
<line x1="145.6" y1="695.6" x2="147.68" y2="697.17" stroke="#3a3a3a" stroke-width="0.8" />
<text x="151.2" y="700" font-family='"Liberation Sans", sans-serif' font-size="5.7" text-anchor="middle" fill="#111" dominant-baseline="central" transform="rotate(37 151.2 700)" >1.1</text>
<line x1="166" y1="681" x2="168.08" y2="682.57" stroke="#3a3a3a" stroke-width="0.8" />
<text x="171.6" y="685.4" font-family='"Liberation Sans", sans-serif' font-size="5.7" text-anchor="middle" fill="#111" dominant-baseline="central" transform="rotate(37 171.6 685.4)" >1.2</text>
<line x1="185" y1="667.6" x2="187.08" y2="669.17" stroke="#3a3a3a" stroke-width="0.8" />
<text x="190.6" y="672" font-family='"Liberation Sans", sans-serif' font-size="5.7" text-anchor="middle" fill="#111" dominant-baseline="central" transform="rotate(37 190.6 672)" >1.3</text>
<line x1="135" y1="703.1" x2="136.12" y2="703.94" stroke="#3a3a3a" stroke-width="0.6400000000000001" />
<line x1="155.8" y1="688.3" x2="156.92" y2="689.14" stroke="#3a3a3a" stroke-width="0.6400000000000001" />
<line x1="175.5" y1="674.3" x2="176.62" y2="675.14" stroke="#3a3a3a" stroke-width="0.6400000000000001" />
<text x="10.9" y="622.2" font-family='"Liberation Sans", sans-serif' font-size="6.6" text-anchor="middle" dominant-baseline="central" fill="#111" stroke="#111" stroke-width="0.2" transform="rotate(102 10.9 622.2)">F</text>
<text x="8.5" y="627.4" font-family='"Liberation Sans", sans-serif' font-size="4.49" text-anchor="middle" dominant-baseline="central" fill="#111" stroke="#111" stroke-width="0.15" transform="rotate(102 8.5 627.4)">LL</text>
<text x="57" y="696" font-family='"Liberation Sans", sans-serif' font-size="6.5" text-anchor="middle" fill="#111" dominant-baseline="central" transform="rotate(37 57 696)" >σ</text>
<text x="172" y="699" font-family='"Liberation Sans", sans-serif' font-size="6.5" text-anchor="middle" fill="#111" dominant-baseline="central" transform="rotate(-36 172 699)" >N</text>
<defs><linearGradient id="g3" x1="0" y1="0" x2="0" y2="1">
<stop offset="0.0" stop-color="#70007c"/>
<stop offset="0.03" stop-color="#86009a"/>
<stop offset="0.07" stop-color="#8c00d0"/>
<stop offset="0.105" stop-color="#7800ff"/>
<stop offset="0.148" stop-color="#0800ff"/>
<stop offset="0.17" stop-color="#0010ff"/>
<stop offset="0.272" stop-color="#00f8ff"/>
<stop offset="0.292" stop-color="#00fff0"/>
<stop offset="0.316" stop-color="#08ff08"/>
<stop offset="0.5" stop-color="#ffff00"/>
<stop offset="0.6" stop-color="#ff8000"/>
<stop offset="0.655" stop-color="#ff0800"/>
<stop offset="0.8" stop-color="#f80000"/>
<stop offset="1.0" stop-color="#7a0000"/>
</linearGradient></defs>
<rect x="214.6" y="525.3" width="21" height="89.7" fill="url(#g3)"/>
<line x1="214.6" y1="525.6" x2="235.6" y2="525.6" stroke="#2a1030" stroke-width="0.8" />
<line x1="235.6" y1="525.3" x2="235.6" y2="615" stroke="#333" stroke-width="0.7" />
<line x1="235.6" y1="525.6" x2="238.6" y2="525.6" stroke="#222" stroke-width="0.9" />
<text x="240" y="525.6" font-family='"Liberation Sans", sans-serif' font-size="4.7" text-anchor="start" fill="#111" dominant-baseline="central" >-0.01450</text>
<line x1="235.6" y1="534.54" x2="238.6" y2="534.54" stroke="#222" stroke-width="0.9" />
<text x="240" y="534.54" font-family='"Liberation Sans", sans-serif' font-size="4.7" text-anchor="start" fill="#111" dominant-baseline="central" >0.004350</text>
<line x1="235.6" y1="543.48" x2="238.6" y2="543.48" stroke="#222" stroke-width="0.9" />
<text x="240" y="543.48" font-family='"Liberation Sans", sans-serif' font-size="4.7" text-anchor="start" fill="#111" dominant-baseline="central" >0.02320</text>
<line x1="235.6" y1="552.42" x2="238.6" y2="552.42" stroke="#222" stroke-width="0.9" />
<text x="240" y="552.42" font-family='"Liberation Sans", sans-serif' font-size="4.7" text-anchor="start" fill="#111" dominant-baseline="central" >0.04205</text>
<line x1="235.6" y1="561.36" x2="238.6" y2="561.36" stroke="#222" stroke-width="0.9" />
<text x="240" y="561.36" font-family='"Liberation Sans", sans-serif' font-size="4.7" text-anchor="start" fill="#111" dominant-baseline="central" >0.06090</text>
<line x1="235.6" y1="570.3" x2="238.6" y2="570.3" stroke="#222" stroke-width="0.9" />
<text x="240" y="570.3" font-family='"Liberation Sans", sans-serif' font-size="4.7" text-anchor="start" fill="#111" dominant-baseline="central" >0.07975</text>
<line x1="235.6" y1="579.24" x2="238.6" y2="579.24" stroke="#222" stroke-width="0.9" />
<text x="240" y="579.24" font-family='"Liberation Sans", sans-serif' font-size="4.7" text-anchor="start" fill="#111" dominant-baseline="central" >0.09860</text>
<line x1="235.6" y1="588.18" x2="238.6" y2="588.18" stroke="#222" stroke-width="0.9" />
<text x="240" y="588.18" font-family='"Liberation Sans", sans-serif' font-size="4.7" text-anchor="start" fill="#111" dominant-baseline="central" >0.1175</text>
<line x1="235.6" y1="597.12" x2="238.6" y2="597.12" stroke="#222" stroke-width="0.9" />
<text x="240" y="597.12" font-family='"Liberation Sans", sans-serif' font-size="4.7" text-anchor="start" fill="#111" dominant-baseline="central" >0.1363</text>
<line x1="235.6" y1="606.06" x2="238.6" y2="606.06" stroke="#222" stroke-width="0.9" />
<text x="240" y="606.06" font-family='"Liberation Sans", sans-serif' font-size="4.7" text-anchor="start" fill="#111" dominant-baseline="central" >0.1552</text>
<line x1="235.6" y1="615" x2="238.6" y2="615" stroke="#222" stroke-width="0.9" />
<text x="240" y="615" font-family='"Liberation Sans", sans-serif' font-size="4.7" text-anchor="start" fill="#111" dominant-baseline="central" >0.1740</text>
<text x="218.6" y="634.1" font-family='"Liberation Serif", serif' font-size="12.4" fill="#111" stroke="#111" stroke-width="0.2" textLength="41" lengthAdjust="spacingAndGlyphs">R<tspan font-size="6.6" dy="-3.6">2</tspan><tspan dy="3.6"> = 0.93</tspan></text>
<text x="254.6" y="682.3" font-family='"Liberation Serif", serif' font-size="12.2" fill="#111" stroke="#111" stroke-width="0.2" textLength="35.7" lengthAdjust="spacingAndGlyphs">Batch 6</text>
<line x1="364.6" y1="513.5" x2="540.8" y2="513.5" stroke="#222" stroke-width="1.1" />
<line x1="540.3" y1="513.5" x2="540.3" y2="685.8" stroke="#111" stroke-width="1.0" />
<line x1="366.8" y1="513.5" x2="366.8" y2="686" stroke="#111" stroke-width="1.3" />
<line x1="364.6" y1="683.8" x2="540.3" y2="683.8" stroke="#111" stroke-width="1.3" />
<text x="360.1" y="684" font-family='"Liberation Sans", sans-serif' font-size="6.5" text-anchor="end" fill="#1a1a1a" dominant-baseline="central" stroke="#1a1a1a" stroke-width="0.12" textLength="3.72" lengthAdjust="spacingAndGlyphs">0</text>
<line x1="366.8" y1="680.39" x2="368.4" y2="680.39" stroke="#111" stroke-width="0.9" />
<line x1="366.8" y1="676.99" x2="368.4" y2="676.99" stroke="#111" stroke-width="0.9" />
<line x1="366.8" y1="673.58" x2="368.4" y2="673.58" stroke="#111" stroke-width="0.9" />
<line x1="366.8" y1="670.18" x2="368.4" y2="670.18" stroke="#111" stroke-width="0.9" />
<line x1="364.6" y1="666.77" x2="369" y2="666.77" stroke="#111" stroke-width="1.0" />
<text x="360.1" y="666.97" font-family='"Liberation Sans", sans-serif' font-size="6.5" text-anchor="end" fill="#1a1a1a" dominant-baseline="central" stroke="#1a1a1a" stroke-width="0.12" textLength="13.03" lengthAdjust="spacingAndGlyphs">0.02</text>
<line x1="366.8" y1="663.36" x2="368.4" y2="663.36" stroke="#111" stroke-width="0.9" />
<line x1="366.8" y1="659.96" x2="368.4" y2="659.96" stroke="#111" stroke-width="0.9" />
<line x1="366.8" y1="656.55" x2="368.4" y2="656.55" stroke="#111" stroke-width="0.9" />
<line x1="366.8" y1="653.15" x2="368.4" y2="653.15" stroke="#111" stroke-width="0.9" />
<line x1="364.6" y1="649.74" x2="369" y2="649.74" stroke="#111" stroke-width="1.0" />
<text x="360.1" y="649.94" font-family='"Liberation Sans", sans-serif' font-size="6.5" text-anchor="end" fill="#1a1a1a" dominant-baseline="central" stroke="#1a1a1a" stroke-width="0.12" textLength="13.03" lengthAdjust="spacingAndGlyphs">0.04</text>
<line x1="366.8" y1="646.33" x2="368.4" y2="646.33" stroke="#111" stroke-width="0.9" />
<line x1="366.8" y1="642.93" x2="368.4" y2="642.93" stroke="#111" stroke-width="0.9" />
<line x1="366.8" y1="639.52" x2="368.4" y2="639.52" stroke="#111" stroke-width="0.9" />
<line x1="366.8" y1="636.12" x2="368.4" y2="636.12" stroke="#111" stroke-width="0.9" />
<line x1="364.6" y1="632.71" x2="369" y2="632.71" stroke="#111" stroke-width="1.0" />
<text x="360.1" y="632.91" font-family='"Liberation Sans", sans-serif' font-size="6.5" text-anchor="end" fill="#1a1a1a" dominant-baseline="central" stroke="#1a1a1a" stroke-width="0.12" textLength="13.03" lengthAdjust="spacingAndGlyphs">0.06</text>
<line x1="366.8" y1="629.3" x2="368.4" y2="629.3" stroke="#111" stroke-width="0.9" />
<line x1="366.8" y1="625.9" x2="368.4" y2="625.9" stroke="#111" stroke-width="0.9" />
<line x1="366.8" y1="622.49" x2="368.4" y2="622.49" stroke="#111" stroke-width="0.9" />
<line x1="366.8" y1="619.09" x2="368.4" y2="619.09" stroke="#111" stroke-width="0.9" />
<line x1="364.6" y1="615.68" x2="369" y2="615.68" stroke="#111" stroke-width="1.0" />
<text x="360.1" y="615.88" font-family='"Liberation Sans", sans-serif' font-size="6.5" text-anchor="end" fill="#1a1a1a" dominant-baseline="central" stroke="#1a1a1a" stroke-width="0.12" textLength="13.03" lengthAdjust="spacingAndGlyphs">0.08</text>
<line x1="366.8" y1="612.27" x2="368.4" y2="612.27" stroke="#111" stroke-width="0.9" />
<line x1="366.8" y1="608.87" x2="368.4" y2="608.87" stroke="#111" stroke-width="0.9" />
<line x1="366.8" y1="605.46" x2="368.4" y2="605.46" stroke="#111" stroke-width="0.9" />
<line x1="366.8" y1="602.06" x2="368.4" y2="602.06" stroke="#111" stroke-width="0.9" />
<line x1="364.6" y1="598.65" x2="369" y2="598.65" stroke="#111" stroke-width="1.0" />
<text x="360.1" y="598.85" font-family='"Liberation Sans", sans-serif' font-size="6.5" text-anchor="end" fill="#1a1a1a" dominant-baseline="central" stroke="#1a1a1a" stroke-width="0.12" textLength="9.31" lengthAdjust="spacingAndGlyphs">0.1</text>
<line x1="366.8" y1="595.24" x2="368.4" y2="595.24" stroke="#111" stroke-width="0.9" />
<line x1="366.8" y1="591.84" x2="368.4" y2="591.84" stroke="#111" stroke-width="0.9" />
<line x1="366.8" y1="588.43" x2="368.4" y2="588.43" stroke="#111" stroke-width="0.9" />
<line x1="366.8" y1="585.03" x2="368.4" y2="585.03" stroke="#111" stroke-width="0.9" />
<line x1="364.6" y1="581.62" x2="369" y2="581.62" stroke="#111" stroke-width="1.0" />
<text x="360.1" y="581.82" font-family='"Liberation Sans", sans-serif' font-size="6.5" text-anchor="end" fill="#1a1a1a" dominant-baseline="central" stroke="#1a1a1a" stroke-width="0.12" textLength="13.03" lengthAdjust="spacingAndGlyphs">0.12</text>
<line x1="366.8" y1="578.21" x2="368.4" y2="578.21" stroke="#111" stroke-width="0.9" />
<line x1="366.8" y1="574.81" x2="368.4" y2="574.81" stroke="#111" stroke-width="0.9" />
<line x1="366.8" y1="571.4" x2="368.4" y2="571.4" stroke="#111" stroke-width="0.9" />
<line x1="366.8" y1="568" x2="368.4" y2="568" stroke="#111" stroke-width="0.9" />
<line x1="364.6" y1="564.59" x2="369" y2="564.59" stroke="#111" stroke-width="1.0" />
<text x="360.1" y="564.79" font-family='"Liberation Sans", sans-serif' font-size="6.5" text-anchor="end" fill="#1a1a1a" dominant-baseline="central" stroke="#1a1a1a" stroke-width="0.12" textLength="13.03" lengthAdjust="spacingAndGlyphs">0.14</text>
<line x1="366.8" y1="561.18" x2="368.4" y2="561.18" stroke="#111" stroke-width="0.9" />
<line x1="366.8" y1="557.78" x2="368.4" y2="557.78" stroke="#111" stroke-width="0.9" />
<line x1="366.8" y1="554.37" x2="368.4" y2="554.37" stroke="#111" stroke-width="0.9" />
<line x1="366.8" y1="550.97" x2="368.4" y2="550.97" stroke="#111" stroke-width="0.9" />
<line x1="364.6" y1="547.56" x2="369" y2="547.56" stroke="#111" stroke-width="1.0" />
<text x="360.1" y="547.76" font-family='"Liberation Sans", sans-serif' font-size="6.5" text-anchor="end" fill="#1a1a1a" dominant-baseline="central" stroke="#1a1a1a" stroke-width="0.12" textLength="13.03" lengthAdjust="spacingAndGlyphs">0.16</text>
<line x1="366.8" y1="544.15" x2="368.4" y2="544.15" stroke="#111" stroke-width="0.9" />
<line x1="366.8" y1="540.75" x2="368.4" y2="540.75" stroke="#111" stroke-width="0.9" />
<line x1="366.8" y1="537.34" x2="368.4" y2="537.34" stroke="#111" stroke-width="0.9" />
<line x1="366.8" y1="533.94" x2="368.4" y2="533.94" stroke="#111" stroke-width="0.9" />
<line x1="364.6" y1="530.53" x2="369" y2="530.53" stroke="#111" stroke-width="1.0" />
<text x="360.1" y="530.73" font-family='"Liberation Sans", sans-serif' font-size="6.5" text-anchor="end" fill="#1a1a1a" dominant-baseline="central" stroke="#1a1a1a" stroke-width="0.12" textLength="13.03" lengthAdjust="spacingAndGlyphs">0.18</text>
<line x1="366.8" y1="527.12" x2="368.4" y2="527.12" stroke="#111" stroke-width="0.9" />
<line x1="366.8" y1="523.72" x2="368.4" y2="523.72" stroke="#111" stroke-width="0.9" />
<line x1="366.8" y1="520.31" x2="368.4" y2="520.31" stroke="#111" stroke-width="0.9" />
<line x1="366.8" y1="516.91" x2="368.4" y2="516.91" stroke="#111" stroke-width="0.9" />
<text x="360.1" y="513.7" font-family='"Liberation Sans", sans-serif' font-size="6.5" text-anchor="end" fill="#1a1a1a" dominant-baseline="central" stroke="#1a1a1a" stroke-width="0.12" textLength="9.31" lengthAdjust="spacingAndGlyphs">0.2</text>
<text x="366.8" y="695" font-family='"Liberation Sans", sans-serif' font-size="6.5" text-anchor="middle" fill="#1a1a1a" stroke="#1a1a1a" stroke-width="0.12" textLength="3.72" lengthAdjust="spacingAndGlyphs">0</text>
<line x1="375.48" y1="683.8" x2="375.48" y2="682.2" stroke="#111" stroke-width="0.9" />
<line x1="384.15" y1="683.8" x2="384.15" y2="682.2" stroke="#111" stroke-width="0.9" />
<line x1="392.82" y1="683.8" x2="392.82" y2="682.2" stroke="#111" stroke-width="0.9" />
<line x1="401.5" y1="683.8" x2="401.5" y2="682.2" stroke="#111" stroke-width="0.9" />
<line x1="410.18" y1="681.6" x2="410.18" y2="686" stroke="#111" stroke-width="1.0" />
<text x="410.18" y="695" font-family='"Liberation Sans", sans-serif' font-size="6.5" text-anchor="middle" fill="#1a1a1a" stroke="#1a1a1a" stroke-width="0.12" textLength="13.03" lengthAdjust="spacingAndGlyphs">0.05</text>
<line x1="418.85" y1="683.8" x2="418.85" y2="682.2" stroke="#111" stroke-width="0.9" />
<line x1="427.52" y1="683.8" x2="427.52" y2="682.2" stroke="#111" stroke-width="0.9" />
<line x1="436.2" y1="683.8" x2="436.2" y2="682.2" stroke="#111" stroke-width="0.9" />
<line x1="444.88" y1="683.8" x2="444.88" y2="682.2" stroke="#111" stroke-width="0.9" />
<line x1="453.55" y1="681.6" x2="453.55" y2="686" stroke="#111" stroke-width="1.0" />
<text x="453.55" y="695" font-family='"Liberation Sans", sans-serif' font-size="6.5" text-anchor="middle" fill="#1a1a1a" stroke="#1a1a1a" stroke-width="0.12" textLength="9.31" lengthAdjust="spacingAndGlyphs">0.1</text>
<line x1="462.22" y1="683.8" x2="462.22" y2="682.2" stroke="#111" stroke-width="0.9" />
<line x1="470.9" y1="683.8" x2="470.9" y2="682.2" stroke="#111" stroke-width="0.9" />
<line x1="479.57" y1="683.8" x2="479.57" y2="682.2" stroke="#111" stroke-width="0.9" />
<line x1="488.25" y1="683.8" x2="488.25" y2="682.2" stroke="#111" stroke-width="0.9" />
<line x1="496.92" y1="681.6" x2="496.92" y2="686" stroke="#111" stroke-width="1.0" />
<text x="496.92" y="695" font-family='"Liberation Sans", sans-serif' font-size="6.5" text-anchor="middle" fill="#1a1a1a" stroke="#1a1a1a" stroke-width="0.12" textLength="13.03" lengthAdjust="spacingAndGlyphs">0.15</text>
<line x1="505.6" y1="683.8" x2="505.6" y2="682.2" stroke="#111" stroke-width="0.9" />
<line x1="514.27" y1="683.8" x2="514.27" y2="682.2" stroke="#111" stroke-width="0.9" />
<line x1="522.95" y1="683.8" x2="522.95" y2="682.2" stroke="#111" stroke-width="0.9" />
<line x1="531.62" y1="683.8" x2="531.62" y2="682.2" stroke="#111" stroke-width="0.9" />
<text x="540.3" y="695" font-family='"Liberation Sans", sans-serif' font-size="6.5" text-anchor="middle" fill="#1a1a1a" stroke="#1a1a1a" stroke-width="0.12" textLength="9.31" lengthAdjust="spacingAndGlyphs">0.2</text>
<line x1="366.8" y1="683.8" x2="505.6" y2="547.56" stroke="#000" stroke-width="1.7" stroke-linecap="butt"/>
<circle cx="435.9" cy="613.8" r="2.5" fill="none" stroke="#000" stroke-width="1.8"/>
<circle cx="444.6" cy="603.5" r="2.5" fill="none" stroke="#000" stroke-width="1.8"/>
<circle cx="454.1" cy="584" r="2.5" fill="none" stroke="#000" stroke-width="1.8"/>
<circle cx="462.4" cy="584.3" r="2.5" fill="none" stroke="#000" stroke-width="1.8"/>
<circle cx="488" cy="560.7" r="2.5" fill="none" stroke="#000" stroke-width="1.8"/>
<line x1="436.6" y1="611.2" x2="488" y2="559.5" stroke="#f00000" stroke-width="1.2" />
<text x="416.3" y="705.9" font-family='"Liberation Sans", sans-serif' font-size="6.5" fill="#1a1a1a" stroke="#1a1a1a" stroke-width="0.1" textLength="73.6" lengthAdjust="spacingAndGlyphs">F<tspan font-size="4.03" dy="1.4">LL</tspan><tspan dy="-1.4"> from Back Calculation</tspan></text>
<text x="342.4" y="599" font-family='"Liberation Sans", sans-serif' font-size="6.5" fill="#1a1a1a" stroke="#1a1a1a" stroke-width="0.1" text-anchor="middle" transform="rotate(-90 342.4 599)" textLength="31.5" lengthAdjust="spacingAndGlyphs">F<tspan font-size="4.03" dy="1.4">LL</tspan><tspan dy="-1.4"> from Eq</tspan></text>
<text x="388.3" y="546.5" font-family='"Liberation Serif", serif' font-size="9.6" fill="#111" textLength="33" lengthAdjust="spacingAndGlyphs">R<tspan font-size="5.3" dy="-3.0">2</tspan><tspan dy="3.0"> = 0.78</tspan></text>
<text x="388.3" y="559" font-family='"Liberation Serif", serif' font-size="9.6" fill="#111" textLength="47.5" lengthAdjust="spacingAndGlyphs">LCCC = 0.97</text>
</svg></body></html>
